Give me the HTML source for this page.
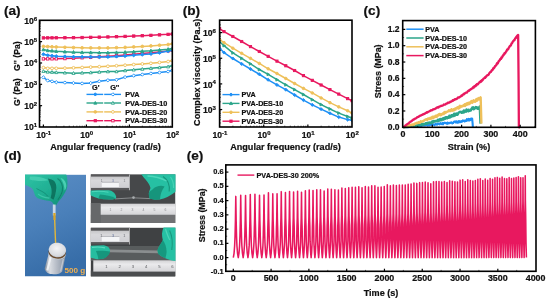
<!DOCTYPE html>
<html lang="en"><head><meta charset="utf-8"><title>Figure</title>
<style>html,body{margin:0;padding:0;background:#fff}svg{display:block}</style>
</head><body>
<svg width="550" height="301" viewBox="0 0 550 301" font-family="'Liberation Sans', sans-serif" font-weight="bold">
<rect width="550" height="301" fill="#fff"/>
<text x="4.00" y="15.10" font-size="13.6" text-anchor="start" fill="#111" stroke="#111" stroke-width="0.22" stroke-linejoin="round" >(a)</text>
<text x="182.70" y="15.10" font-size="13.6" text-anchor="start" fill="#111" stroke="#111" stroke-width="0.22" stroke-linejoin="round" >(b)</text>
<text x="363.60" y="15.10" font-size="13.6" text-anchor="start" fill="#111" stroke="#111" stroke-width="0.22" stroke-linejoin="round" >(c)</text>
<text x="4.00" y="160.10" font-size="13.6" text-anchor="start" fill="#111" stroke="#111" stroke-width="0.22" stroke-linejoin="round" >(d)</text>
<text x="186.70" y="160.10" font-size="13.6" text-anchor="start" fill="#111" stroke="#111" stroke-width="0.22" stroke-linejoin="round" >(e)</text>
<clipPath id="ca"><rect x="39.5" y="20.3" width="132.8" height="106.7"/></clipPath>
<g clip-path="url(#ca)">
<polyline points="43.40,77.40 47.70,80.50 52.00,81.38 56.30,82.21 64.90,82.62 73.50,83.03 82.10,83.46 90.70,83.05 99.30,81.31 107.90,80.22 116.50,79.74 125.10,77.11 133.70,75.65 142.30,74.56 150.90,73.50 159.50,72.56 168.10,71.48 172.40,70.20" fill="none" stroke="#1E90F5" stroke-width="1.5" stroke-linejoin="round" />
<polygon points="43.40,75.72 45.08,77.40 43.40,79.08 41.72,77.40" fill="#fff" stroke="#1E90F5" stroke-width="0.9"/>
<polygon points="47.70,78.82 49.38,80.50 47.70,82.18 46.02,80.50" fill="#fff" stroke="#1E90F5" stroke-width="0.9"/>
<polygon points="52.00,79.70 53.68,81.38 52.00,83.06 50.32,81.38" fill="#fff" stroke="#1E90F5" stroke-width="0.9"/>
<polygon points="56.30,80.53 57.98,82.21 56.30,83.89 54.62,82.21" fill="#fff" stroke="#1E90F5" stroke-width="0.9"/>
<polygon points="64.90,80.94 66.58,82.62 64.90,84.30 63.22,82.62" fill="#fff" stroke="#1E90F5" stroke-width="0.9"/>
<polygon points="73.50,81.35 75.18,83.03 73.50,84.71 71.82,83.03" fill="#fff" stroke="#1E90F5" stroke-width="0.9"/>
<polygon points="82.10,81.78 83.78,83.46 82.10,85.14 80.42,83.46" fill="#fff" stroke="#1E90F5" stroke-width="0.9"/>
<polygon points="90.70,81.37 92.38,83.05 90.70,84.73 89.02,83.05" fill="#fff" stroke="#1E90F5" stroke-width="0.9"/>
<polygon points="99.30,79.62 100.98,81.31 99.30,82.99 97.62,81.31" fill="#fff" stroke="#1E90F5" stroke-width="0.9"/>
<polygon points="107.90,78.54 109.58,80.22 107.90,81.90 106.22,80.22" fill="#fff" stroke="#1E90F5" stroke-width="0.9"/>
<polygon points="116.50,78.06 118.18,79.74 116.50,81.42 114.82,79.74" fill="#fff" stroke="#1E90F5" stroke-width="0.9"/>
<polygon points="125.10,75.43 126.78,77.11 125.10,78.79 123.42,77.11" fill="#fff" stroke="#1E90F5" stroke-width="0.9"/>
<polygon points="133.70,73.97 135.38,75.65 133.70,77.33 132.02,75.65" fill="#fff" stroke="#1E90F5" stroke-width="0.9"/>
<polygon points="142.30,72.88 143.98,74.56 142.30,76.24 140.62,74.56" fill="#fff" stroke="#1E90F5" stroke-width="0.9"/>
<polygon points="150.90,71.82 152.58,73.50 150.90,75.18 149.22,73.50" fill="#fff" stroke="#1E90F5" stroke-width="0.9"/>
<polygon points="159.50,70.88 161.18,72.56 159.50,74.24 157.82,72.56" fill="#fff" stroke="#1E90F5" stroke-width="0.9"/>
<polygon points="168.10,69.80 169.78,71.48 168.10,73.16 166.42,71.48" fill="#fff" stroke="#1E90F5" stroke-width="0.9"/>
<polygon points="172.40,68.52 174.08,70.20 172.40,71.88 170.72,70.20" fill="#fff" stroke="#1E90F5" stroke-width="0.9"/>
<polyline points="43.40,71.20 47.70,71.95 52.00,72.20 56.30,72.41 64.90,72.83 73.50,73.18 82.10,72.88 90.70,72.56 99.30,72.02 107.90,71.60 116.50,71.54 125.10,70.56 133.70,69.83 142.30,69.10 150.90,68.36 159.50,67.57 168.10,66.70 172.40,65.60" fill="none" stroke="#2BA58A" stroke-width="1.5" stroke-linejoin="round" />
<polygon points="43.40,69.59 44.94,72.39 41.86,72.39" fill="#fff" stroke="#2BA58A" stroke-width="0.9"/>
<polygon points="47.70,70.34 49.24,73.14 46.16,73.14" fill="#fff" stroke="#2BA58A" stroke-width="0.9"/>
<polygon points="52.00,70.59 53.54,73.39 50.46,73.39" fill="#fff" stroke="#2BA58A" stroke-width="0.9"/>
<polygon points="56.30,70.80 57.84,73.60 54.76,73.60" fill="#fff" stroke="#2BA58A" stroke-width="0.9"/>
<polygon points="64.90,71.22 66.44,74.02 63.36,74.02" fill="#fff" stroke="#2BA58A" stroke-width="0.9"/>
<polygon points="73.50,71.57 75.04,74.37 71.96,74.37" fill="#fff" stroke="#2BA58A" stroke-width="0.9"/>
<polygon points="82.10,71.27 83.64,74.07 80.56,74.07" fill="#fff" stroke="#2BA58A" stroke-width="0.9"/>
<polygon points="90.70,70.95 92.24,73.75 89.16,73.75" fill="#fff" stroke="#2BA58A" stroke-width="0.9"/>
<polygon points="99.30,70.41 100.84,73.21 97.76,73.21" fill="#fff" stroke="#2BA58A" stroke-width="0.9"/>
<polygon points="107.90,69.99 109.44,72.79 106.36,72.79" fill="#fff" stroke="#2BA58A" stroke-width="0.9"/>
<polygon points="116.50,69.93 118.04,72.73 114.96,72.73" fill="#fff" stroke="#2BA58A" stroke-width="0.9"/>
<polygon points="125.10,68.95 126.64,71.75 123.56,71.75" fill="#fff" stroke="#2BA58A" stroke-width="0.9"/>
<polygon points="133.70,68.22 135.24,71.02 132.16,71.02" fill="#fff" stroke="#2BA58A" stroke-width="0.9"/>
<polygon points="142.30,67.49 143.84,70.29 140.76,70.29" fill="#fff" stroke="#2BA58A" stroke-width="0.9"/>
<polygon points="150.90,66.75 152.44,69.55 149.36,69.55" fill="#fff" stroke="#2BA58A" stroke-width="0.9"/>
<polygon points="159.50,65.96 161.04,68.76 157.96,68.76" fill="#fff" stroke="#2BA58A" stroke-width="0.9"/>
<polygon points="168.10,65.09 169.64,67.89 166.56,67.89" fill="#fff" stroke="#2BA58A" stroke-width="0.9"/>
<polygon points="172.40,63.99 173.94,66.79 170.86,66.79" fill="#fff" stroke="#2BA58A" stroke-width="0.9"/>
<polyline points="43.40,67.60 47.70,68.35 52.00,68.37 56.30,68.33 64.90,68.13 73.50,67.83 82.10,67.50 90.70,67.11 99.30,66.71 107.90,66.28 116.50,65.74 125.10,65.19 133.70,64.57 142.30,63.95 150.90,63.31 159.50,62.43 168.10,61.51 172.40,60.60" fill="none" stroke="#EEC05A" stroke-width="1.5" stroke-linejoin="round" />
<circle cx="43.40" cy="67.60" r="1.40" fill="#fff" stroke="#EEC05A" stroke-width="0.9"/>
<circle cx="47.70" cy="68.35" r="1.40" fill="#fff" stroke="#EEC05A" stroke-width="0.9"/>
<circle cx="52.00" cy="68.37" r="1.40" fill="#fff" stroke="#EEC05A" stroke-width="0.9"/>
<circle cx="56.30" cy="68.33" r="1.40" fill="#fff" stroke="#EEC05A" stroke-width="0.9"/>
<circle cx="64.90" cy="68.13" r="1.40" fill="#fff" stroke="#EEC05A" stroke-width="0.9"/>
<circle cx="73.50" cy="67.83" r="1.40" fill="#fff" stroke="#EEC05A" stroke-width="0.9"/>
<circle cx="82.10" cy="67.50" r="1.40" fill="#fff" stroke="#EEC05A" stroke-width="0.9"/>
<circle cx="90.70" cy="67.11" r="1.40" fill="#fff" stroke="#EEC05A" stroke-width="0.9"/>
<circle cx="99.30" cy="66.71" r="1.40" fill="#fff" stroke="#EEC05A" stroke-width="0.9"/>
<circle cx="107.90" cy="66.28" r="1.40" fill="#fff" stroke="#EEC05A" stroke-width="0.9"/>
<circle cx="116.50" cy="65.74" r="1.40" fill="#fff" stroke="#EEC05A" stroke-width="0.9"/>
<circle cx="125.10" cy="65.19" r="1.40" fill="#fff" stroke="#EEC05A" stroke-width="0.9"/>
<circle cx="133.70" cy="64.57" r="1.40" fill="#fff" stroke="#EEC05A" stroke-width="0.9"/>
<circle cx="142.30" cy="63.95" r="1.40" fill="#fff" stroke="#EEC05A" stroke-width="0.9"/>
<circle cx="150.90" cy="63.31" r="1.40" fill="#fff" stroke="#EEC05A" stroke-width="0.9"/>
<circle cx="159.50" cy="62.43" r="1.40" fill="#fff" stroke="#EEC05A" stroke-width="0.9"/>
<circle cx="168.10" cy="61.51" r="1.40" fill="#fff" stroke="#EEC05A" stroke-width="0.9"/>
<circle cx="172.40" cy="60.60" r="1.40" fill="#fff" stroke="#EEC05A" stroke-width="0.9"/>
<polyline points="43.40,58.90 47.70,58.87 52.00,58.85 56.30,58.82 64.90,58.58 73.50,58.19 82.10,57.78 90.70,57.28 99.30,56.79 107.90,56.27 116.50,55.68 125.10,55.09 133.70,54.33 142.30,53.58 150.90,52.80 159.50,51.88 168.10,50.94 172.40,50.30" fill="none" stroke="#E8185F" stroke-width="1.5" stroke-linejoin="round" />
<rect x="42.21" y="57.71" width="2.38" height="2.38" fill="#fff" stroke="#E8185F" stroke-width="0.9"/>
<rect x="46.51" y="57.68" width="2.38" height="2.38" fill="#fff" stroke="#E8185F" stroke-width="0.9"/>
<rect x="50.81" y="57.66" width="2.38" height="2.38" fill="#fff" stroke="#E8185F" stroke-width="0.9"/>
<rect x="55.11" y="57.63" width="2.38" height="2.38" fill="#fff" stroke="#E8185F" stroke-width="0.9"/>
<rect x="63.71" y="57.39" width="2.38" height="2.38" fill="#fff" stroke="#E8185F" stroke-width="0.9"/>
<rect x="72.31" y="57.00" width="2.38" height="2.38" fill="#fff" stroke="#E8185F" stroke-width="0.9"/>
<rect x="80.91" y="56.59" width="2.38" height="2.38" fill="#fff" stroke="#E8185F" stroke-width="0.9"/>
<rect x="89.51" y="56.09" width="2.38" height="2.38" fill="#fff" stroke="#E8185F" stroke-width="0.9"/>
<rect x="98.11" y="55.60" width="2.38" height="2.38" fill="#fff" stroke="#E8185F" stroke-width="0.9"/>
<rect x="106.71" y="55.08" width="2.38" height="2.38" fill="#fff" stroke="#E8185F" stroke-width="0.9"/>
<rect x="115.31" y="54.49" width="2.38" height="2.38" fill="#fff" stroke="#E8185F" stroke-width="0.9"/>
<rect x="123.91" y="53.90" width="2.38" height="2.38" fill="#fff" stroke="#E8185F" stroke-width="0.9"/>
<rect x="132.51" y="53.14" width="2.38" height="2.38" fill="#fff" stroke="#E8185F" stroke-width="0.9"/>
<rect x="141.11" y="52.39" width="2.38" height="2.38" fill="#fff" stroke="#E8185F" stroke-width="0.9"/>
<rect x="149.71" y="51.61" width="2.38" height="2.38" fill="#fff" stroke="#E8185F" stroke-width="0.9"/>
<rect x="158.31" y="50.69" width="2.38" height="2.38" fill="#fff" stroke="#E8185F" stroke-width="0.9"/>
<rect x="166.91" y="49.75" width="2.38" height="2.38" fill="#fff" stroke="#E8185F" stroke-width="0.9"/>
<rect x="171.21" y="49.11" width="2.38" height="2.38" fill="#fff" stroke="#E8185F" stroke-width="0.9"/>
<polyline points="43.40,54.30 47.70,55.33 52.00,55.80 56.30,56.21 64.90,56.51 73.50,56.80 82.10,56.86 90.70,56.91 99.30,56.96 107.90,56.90 116.50,56.45 125.10,55.99 133.70,55.30 142.30,54.62 150.90,53.88 159.50,52.73 168.10,51.11 172.40,50.20" fill="none" stroke="#1E90F5" stroke-width="1.5" stroke-linejoin="round" />
<polygon points="43.40,52.62 45.08,54.30 43.40,55.98 41.72,54.30" fill="#1E90F5" stroke="#1E90F5" stroke-width="0.9"/>
<polygon points="47.70,53.65 49.38,55.33 47.70,57.01 46.02,55.33" fill="#1E90F5" stroke="#1E90F5" stroke-width="0.9"/>
<polygon points="52.00,54.12 53.68,55.80 52.00,57.48 50.32,55.80" fill="#1E90F5" stroke="#1E90F5" stroke-width="0.9"/>
<polygon points="56.30,54.53 57.98,56.21 56.30,57.89 54.62,56.21" fill="#1E90F5" stroke="#1E90F5" stroke-width="0.9"/>
<polygon points="64.90,54.83 66.58,56.51 64.90,58.19 63.22,56.51" fill="#1E90F5" stroke="#1E90F5" stroke-width="0.9"/>
<polygon points="73.50,55.12 75.18,56.80 73.50,58.48 71.82,56.80" fill="#1E90F5" stroke="#1E90F5" stroke-width="0.9"/>
<polygon points="82.10,55.18 83.78,56.86 82.10,58.54 80.42,56.86" fill="#1E90F5" stroke="#1E90F5" stroke-width="0.9"/>
<polygon points="90.70,55.23 92.38,56.91 90.70,58.59 89.02,56.91" fill="#1E90F5" stroke="#1E90F5" stroke-width="0.9"/>
<polygon points="99.30,55.28 100.98,56.96 99.30,58.64 97.62,56.96" fill="#1E90F5" stroke="#1E90F5" stroke-width="0.9"/>
<polygon points="107.90,55.22 109.58,56.90 107.90,58.58 106.22,56.90" fill="#1E90F5" stroke="#1E90F5" stroke-width="0.9"/>
<polygon points="116.50,54.77 118.18,56.45 116.50,58.13 114.82,56.45" fill="#1E90F5" stroke="#1E90F5" stroke-width="0.9"/>
<polygon points="125.10,54.31 126.78,55.99 125.10,57.67 123.42,55.99" fill="#1E90F5" stroke="#1E90F5" stroke-width="0.9"/>
<polygon points="133.70,53.62 135.38,55.30 133.70,56.98 132.02,55.30" fill="#1E90F5" stroke="#1E90F5" stroke-width="0.9"/>
<polygon points="142.30,52.94 143.98,54.62 142.30,56.30 140.62,54.62" fill="#1E90F5" stroke="#1E90F5" stroke-width="0.9"/>
<polygon points="150.90,52.20 152.58,53.88 150.90,55.56 149.22,53.88" fill="#1E90F5" stroke="#1E90F5" stroke-width="0.9"/>
<polygon points="159.50,51.05 161.18,52.73 159.50,54.41 157.82,52.73" fill="#1E90F5" stroke="#1E90F5" stroke-width="0.9"/>
<polygon points="168.10,49.43 169.78,51.11 168.10,52.79 166.42,51.11" fill="#1E90F5" stroke="#1E90F5" stroke-width="0.9"/>
<polygon points="172.40,48.52 174.08,50.20 172.40,51.88 170.72,50.20" fill="#1E90F5" stroke="#1E90F5" stroke-width="0.9"/>
<polyline points="43.40,49.60 47.70,50.53 52.00,50.93 56.30,51.29 64.90,51.80 73.50,52.14 82.10,52.43 90.70,52.56 99.30,52.70 107.90,52.74 116.50,52.47 125.10,52.19 133.70,51.71 142.30,51.23 150.90,50.72 159.50,49.99 168.10,49.22 172.40,48.40" fill="none" stroke="#2BA58A" stroke-width="1.5" stroke-linejoin="round" />
<polygon points="43.40,47.99 44.94,50.79 41.86,50.79" fill="#2BA58A" stroke="#2BA58A" stroke-width="0.9"/>
<polygon points="47.70,48.92 49.24,51.72 46.16,51.72" fill="#2BA58A" stroke="#2BA58A" stroke-width="0.9"/>
<polygon points="52.00,49.32 53.54,52.12 50.46,52.12" fill="#2BA58A" stroke="#2BA58A" stroke-width="0.9"/>
<polygon points="56.30,49.68 57.84,52.48 54.76,52.48" fill="#2BA58A" stroke="#2BA58A" stroke-width="0.9"/>
<polygon points="64.90,50.19 66.44,52.99 63.36,52.99" fill="#2BA58A" stroke="#2BA58A" stroke-width="0.9"/>
<polygon points="73.50,50.53 75.04,53.33 71.96,53.33" fill="#2BA58A" stroke="#2BA58A" stroke-width="0.9"/>
<polygon points="82.10,50.82 83.64,53.62 80.56,53.62" fill="#2BA58A" stroke="#2BA58A" stroke-width="0.9"/>
<polygon points="90.70,50.95 92.24,53.75 89.16,53.75" fill="#2BA58A" stroke="#2BA58A" stroke-width="0.9"/>
<polygon points="99.30,51.09 100.84,53.89 97.76,53.89" fill="#2BA58A" stroke="#2BA58A" stroke-width="0.9"/>
<polygon points="107.90,51.13 109.44,53.93 106.36,53.93" fill="#2BA58A" stroke="#2BA58A" stroke-width="0.9"/>
<polygon points="116.50,50.86 118.04,53.66 114.96,53.66" fill="#2BA58A" stroke="#2BA58A" stroke-width="0.9"/>
<polygon points="125.10,50.58 126.64,53.38 123.56,53.38" fill="#2BA58A" stroke="#2BA58A" stroke-width="0.9"/>
<polygon points="133.70,50.10 135.24,52.90 132.16,52.90" fill="#2BA58A" stroke="#2BA58A" stroke-width="0.9"/>
<polygon points="142.30,49.62 143.84,52.42 140.76,52.42" fill="#2BA58A" stroke="#2BA58A" stroke-width="0.9"/>
<polygon points="150.90,49.11 152.44,51.91 149.36,51.91" fill="#2BA58A" stroke="#2BA58A" stroke-width="0.9"/>
<polygon points="159.50,48.38 161.04,51.18 157.96,51.18" fill="#2BA58A" stroke="#2BA58A" stroke-width="0.9"/>
<polygon points="168.10,47.61 169.64,50.41 166.56,50.41" fill="#2BA58A" stroke="#2BA58A" stroke-width="0.9"/>
<polygon points="172.40,46.79 173.94,49.59 170.86,49.59" fill="#2BA58A" stroke="#2BA58A" stroke-width="0.9"/>
<polyline points="43.40,46.40 47.70,46.61 52.00,46.81 56.30,47.02 64.90,47.35 73.50,47.60 82.10,47.82 90.70,47.88 99.30,47.95 107.90,47.94 116.50,47.67 125.10,47.39 133.70,46.91 142.30,46.43 150.90,45.93 159.50,45.25 168.10,44.53 172.40,43.80" fill="none" stroke="#EEC05A" stroke-width="1.5" stroke-linejoin="round" />
<circle cx="43.40" cy="46.40" r="1.40" fill="#EEC05A" stroke="#EEC05A" stroke-width="0.9"/>
<circle cx="47.70" cy="46.61" r="1.40" fill="#EEC05A" stroke="#EEC05A" stroke-width="0.9"/>
<circle cx="52.00" cy="46.81" r="1.40" fill="#EEC05A" stroke="#EEC05A" stroke-width="0.9"/>
<circle cx="56.30" cy="47.02" r="1.40" fill="#EEC05A" stroke="#EEC05A" stroke-width="0.9"/>
<circle cx="64.90" cy="47.35" r="1.40" fill="#EEC05A" stroke="#EEC05A" stroke-width="0.9"/>
<circle cx="73.50" cy="47.60" r="1.40" fill="#EEC05A" stroke="#EEC05A" stroke-width="0.9"/>
<circle cx="82.10" cy="47.82" r="1.40" fill="#EEC05A" stroke="#EEC05A" stroke-width="0.9"/>
<circle cx="90.70" cy="47.88" r="1.40" fill="#EEC05A" stroke="#EEC05A" stroke-width="0.9"/>
<circle cx="99.30" cy="47.95" r="1.40" fill="#EEC05A" stroke="#EEC05A" stroke-width="0.9"/>
<circle cx="107.90" cy="47.94" r="1.40" fill="#EEC05A" stroke="#EEC05A" stroke-width="0.9"/>
<circle cx="116.50" cy="47.67" r="1.40" fill="#EEC05A" stroke="#EEC05A" stroke-width="0.9"/>
<circle cx="125.10" cy="47.39" r="1.40" fill="#EEC05A" stroke="#EEC05A" stroke-width="0.9"/>
<circle cx="133.70" cy="46.91" r="1.40" fill="#EEC05A" stroke="#EEC05A" stroke-width="0.9"/>
<circle cx="142.30" cy="46.43" r="1.40" fill="#EEC05A" stroke="#EEC05A" stroke-width="0.9"/>
<circle cx="150.90" cy="45.93" r="1.40" fill="#EEC05A" stroke="#EEC05A" stroke-width="0.9"/>
<circle cx="159.50" cy="45.25" r="1.40" fill="#EEC05A" stroke="#EEC05A" stroke-width="0.9"/>
<circle cx="168.10" cy="44.53" r="1.40" fill="#EEC05A" stroke="#EEC05A" stroke-width="0.9"/>
<circle cx="172.40" cy="43.80" r="1.40" fill="#EEC05A" stroke="#EEC05A" stroke-width="0.9"/>
<polyline points="43.40,37.90 47.70,37.86 52.00,37.83 56.30,37.79 64.90,37.72 73.50,37.65 82.10,37.55 90.70,37.35 99.30,37.15 107.90,36.94 116.50,36.67 125.10,36.40 133.70,36.05 142.30,35.71 150.90,35.35 159.50,34.86 168.10,34.37 172.40,34.00" fill="none" stroke="#E8185F" stroke-width="1.5" stroke-linejoin="round" />
<rect x="42.21" y="36.71" width="2.38" height="2.38" fill="#E8185F" stroke="#E8185F" stroke-width="0.9"/>
<rect x="46.51" y="36.67" width="2.38" height="2.38" fill="#E8185F" stroke="#E8185F" stroke-width="0.9"/>
<rect x="50.81" y="36.64" width="2.38" height="2.38" fill="#E8185F" stroke="#E8185F" stroke-width="0.9"/>
<rect x="55.11" y="36.60" width="2.38" height="2.38" fill="#E8185F" stroke="#E8185F" stroke-width="0.9"/>
<rect x="63.71" y="36.53" width="2.38" height="2.38" fill="#E8185F" stroke="#E8185F" stroke-width="0.9"/>
<rect x="72.31" y="36.46" width="2.38" height="2.38" fill="#E8185F" stroke="#E8185F" stroke-width="0.9"/>
<rect x="80.91" y="36.36" width="2.38" height="2.38" fill="#E8185F" stroke="#E8185F" stroke-width="0.9"/>
<rect x="89.51" y="36.16" width="2.38" height="2.38" fill="#E8185F" stroke="#E8185F" stroke-width="0.9"/>
<rect x="98.11" y="35.96" width="2.38" height="2.38" fill="#E8185F" stroke="#E8185F" stroke-width="0.9"/>
<rect x="106.71" y="35.75" width="2.38" height="2.38" fill="#E8185F" stroke="#E8185F" stroke-width="0.9"/>
<rect x="115.31" y="35.48" width="2.38" height="2.38" fill="#E8185F" stroke="#E8185F" stroke-width="0.9"/>
<rect x="123.91" y="35.21" width="2.38" height="2.38" fill="#E8185F" stroke="#E8185F" stroke-width="0.9"/>
<rect x="132.51" y="34.86" width="2.38" height="2.38" fill="#E8185F" stroke="#E8185F" stroke-width="0.9"/>
<rect x="141.11" y="34.52" width="2.38" height="2.38" fill="#E8185F" stroke="#E8185F" stroke-width="0.9"/>
<rect x="149.71" y="34.16" width="2.38" height="2.38" fill="#E8185F" stroke="#E8185F" stroke-width="0.9"/>
<rect x="158.31" y="33.67" width="2.38" height="2.38" fill="#E8185F" stroke="#E8185F" stroke-width="0.9"/>
<rect x="166.91" y="33.18" width="2.38" height="2.38" fill="#E8185F" stroke="#E8185F" stroke-width="0.9"/>
<rect x="171.21" y="32.81" width="2.38" height="2.38" fill="#E8185F" stroke="#E8185F" stroke-width="0.9"/>
</g>
<text x="92.00" y="90.20" font-size="7.3" text-anchor="start" fill="#111" stroke="#111" stroke-width="0.22" stroke-linejoin="round" >G'</text>
<text x="110.20" y="90.20" font-size="7.3" text-anchor="start" fill="#111" stroke="#111" stroke-width="0.22" stroke-linejoin="round" >G''</text>
<line x1="86.50" y1="94.40" x2="103.20" y2="94.40" stroke="#1E90F5" stroke-width="1.4" />
<line x1="104.20" y1="94.40" x2="121.00" y2="94.40" stroke="#1E90F5" stroke-width="1.4" />
<polygon points="95.30,92.78 96.92,94.40 95.30,96.02 93.68,94.40" fill="#1E90F5" stroke="#1E90F5" stroke-width="0.9"/>
<polygon points="112.90,92.72 114.58,94.40 112.90,96.08 111.22,94.40" fill="#fff" stroke="#1E90F5" stroke-width="0.9"/>
<text x="125.20" y="97.00" font-size="7.25" text-anchor="start" fill="#111" stroke="#111" stroke-width="0.22" stroke-linejoin="round" >PVA</text>
<line x1="86.50" y1="103.00" x2="103.20" y2="103.00" stroke="#2BA58A" stroke-width="1.4" />
<line x1="104.20" y1="103.00" x2="121.00" y2="103.00" stroke="#2BA58A" stroke-width="1.4" />
<polygon points="95.30,101.45 96.78,104.15 93.81,104.15" fill="#2BA58A" stroke="#2BA58A" stroke-width="0.9"/>
<polygon points="112.90,101.39 114.44,104.19 111.36,104.19" fill="#fff" stroke="#2BA58A" stroke-width="0.9"/>
<text x="125.20" y="105.60" font-size="7.25" text-anchor="start" fill="#111" stroke="#111" stroke-width="0.22" stroke-linejoin="round" >PVA-DES-10</text>
<line x1="86.50" y1="111.90" x2="103.20" y2="111.90" stroke="#EEC05A" stroke-width="1.4" />
<line x1="104.20" y1="111.90" x2="121.00" y2="111.90" stroke="#EEC05A" stroke-width="1.4" />
<circle cx="95.30" cy="111.90" r="1.35" fill="#EEC05A" stroke="#EEC05A" stroke-width="0.9"/>
<circle cx="112.90" cy="111.90" r="1.40" fill="#fff" stroke="#EEC05A" stroke-width="0.9"/>
<text x="125.20" y="114.50" font-size="7.25" text-anchor="start" fill="#111" stroke="#111" stroke-width="0.22" stroke-linejoin="round" >PVA-DES-20</text>
<line x1="86.50" y1="120.70" x2="103.20" y2="120.70" stroke="#E8185F" stroke-width="1.4" />
<line x1="104.20" y1="120.70" x2="121.00" y2="120.70" stroke="#E8185F" stroke-width="1.4" />
<rect x="94.15" y="119.55" width="2.29" height="2.29" fill="#E8185F" stroke="#E8185F" stroke-width="0.9"/>
<rect x="111.71" y="119.51" width="2.38" height="2.38" fill="#fff" stroke="#E8185F" stroke-width="0.9"/>
<text x="125.20" y="123.30" font-size="7.25" text-anchor="start" fill="#111" stroke="#111" stroke-width="0.22" stroke-linejoin="round" >PVA-DES-30</text>
<text x="37.20" y="130.40" font-size="8.6" text-anchor="end" fill="#111" stroke="#111" stroke-width="0.22" stroke-linejoin="round">10<tspan font-size="6.0" dy="-3.2">1</tspan></text>
<line x1="39.50" y1="120.58" x2="40.90" y2="120.58" stroke="#000" stroke-width="0.6" />
<line x1="39.50" y1="116.82" x2="40.90" y2="116.82" stroke="#000" stroke-width="0.6" />
<line x1="39.50" y1="114.15" x2="40.90" y2="114.15" stroke="#000" stroke-width="0.6" />
<line x1="39.50" y1="112.08" x2="40.90" y2="112.08" stroke="#000" stroke-width="0.6" />
<line x1="39.50" y1="110.39" x2="40.90" y2="110.39" stroke="#000" stroke-width="0.6" />
<line x1="39.50" y1="108.97" x2="40.90" y2="108.97" stroke="#000" stroke-width="0.6" />
<line x1="39.50" y1="107.73" x2="40.90" y2="107.73" stroke="#000" stroke-width="0.6" />
<line x1="39.50" y1="106.64" x2="40.90" y2="106.64" stroke="#000" stroke-width="0.6" />
<line x1="39.50" y1="105.66" x2="42.10" y2="105.66" stroke="#000" stroke-width="1.2" />
<text x="37.20" y="109.06" font-size="8.6" text-anchor="end" fill="#111" stroke="#111" stroke-width="0.22" stroke-linejoin="round">10<tspan font-size="6.0" dy="-3.2">2</tspan></text>
<line x1="39.50" y1="99.24" x2="40.90" y2="99.24" stroke="#000" stroke-width="0.6" />
<line x1="39.50" y1="95.48" x2="40.90" y2="95.48" stroke="#000" stroke-width="0.6" />
<line x1="39.50" y1="92.81" x2="40.90" y2="92.81" stroke="#000" stroke-width="0.6" />
<line x1="39.50" y1="90.74" x2="40.90" y2="90.74" stroke="#000" stroke-width="0.6" />
<line x1="39.50" y1="89.05" x2="40.90" y2="89.05" stroke="#000" stroke-width="0.6" />
<line x1="39.50" y1="87.63" x2="40.90" y2="87.63" stroke="#000" stroke-width="0.6" />
<line x1="39.50" y1="86.39" x2="40.90" y2="86.39" stroke="#000" stroke-width="0.6" />
<line x1="39.50" y1="85.30" x2="40.90" y2="85.30" stroke="#000" stroke-width="0.6" />
<line x1="39.50" y1="84.32" x2="42.10" y2="84.32" stroke="#000" stroke-width="1.2" />
<text x="37.20" y="87.72" font-size="8.6" text-anchor="end" fill="#111" stroke="#111" stroke-width="0.22" stroke-linejoin="round">10<tspan font-size="6.0" dy="-3.2">3</tspan></text>
<line x1="39.50" y1="77.90" x2="40.90" y2="77.90" stroke="#000" stroke-width="0.6" />
<line x1="39.50" y1="74.14" x2="40.90" y2="74.14" stroke="#000" stroke-width="0.6" />
<line x1="39.50" y1="71.47" x2="40.90" y2="71.47" stroke="#000" stroke-width="0.6" />
<line x1="39.50" y1="69.40" x2="40.90" y2="69.40" stroke="#000" stroke-width="0.6" />
<line x1="39.50" y1="67.71" x2="40.90" y2="67.71" stroke="#000" stroke-width="0.6" />
<line x1="39.50" y1="66.29" x2="40.90" y2="66.29" stroke="#000" stroke-width="0.6" />
<line x1="39.50" y1="65.05" x2="40.90" y2="65.05" stroke="#000" stroke-width="0.6" />
<line x1="39.50" y1="63.96" x2="40.90" y2="63.96" stroke="#000" stroke-width="0.6" />
<line x1="39.50" y1="62.98" x2="42.10" y2="62.98" stroke="#000" stroke-width="1.2" />
<text x="37.20" y="66.38" font-size="8.6" text-anchor="end" fill="#111" stroke="#111" stroke-width="0.22" stroke-linejoin="round">10<tspan font-size="6.0" dy="-3.2">4</tspan></text>
<line x1="39.50" y1="56.56" x2="40.90" y2="56.56" stroke="#000" stroke-width="0.6" />
<line x1="39.50" y1="52.80" x2="40.90" y2="52.80" stroke="#000" stroke-width="0.6" />
<line x1="39.50" y1="50.13" x2="40.90" y2="50.13" stroke="#000" stroke-width="0.6" />
<line x1="39.50" y1="48.06" x2="40.90" y2="48.06" stroke="#000" stroke-width="0.6" />
<line x1="39.50" y1="46.37" x2="40.90" y2="46.37" stroke="#000" stroke-width="0.6" />
<line x1="39.50" y1="44.95" x2="40.90" y2="44.95" stroke="#000" stroke-width="0.6" />
<line x1="39.50" y1="43.71" x2="40.90" y2="43.71" stroke="#000" stroke-width="0.6" />
<line x1="39.50" y1="42.62" x2="40.90" y2="42.62" stroke="#000" stroke-width="0.6" />
<line x1="39.50" y1="41.64" x2="42.10" y2="41.64" stroke="#000" stroke-width="1.2" />
<text x="37.20" y="45.04" font-size="8.6" text-anchor="end" fill="#111" stroke="#111" stroke-width="0.22" stroke-linejoin="round">10<tspan font-size="6.0" dy="-3.2">5</tspan></text>
<line x1="39.50" y1="35.22" x2="40.90" y2="35.22" stroke="#000" stroke-width="0.6" />
<line x1="39.50" y1="31.46" x2="40.90" y2="31.46" stroke="#000" stroke-width="0.6" />
<line x1="39.50" y1="28.79" x2="40.90" y2="28.79" stroke="#000" stroke-width="0.6" />
<line x1="39.50" y1="26.72" x2="40.90" y2="26.72" stroke="#000" stroke-width="0.6" />
<line x1="39.50" y1="25.03" x2="40.90" y2="25.03" stroke="#000" stroke-width="0.6" />
<line x1="39.50" y1="23.61" x2="40.90" y2="23.61" stroke="#000" stroke-width="0.6" />
<line x1="39.50" y1="22.37" x2="40.90" y2="22.37" stroke="#000" stroke-width="0.6" />
<line x1="39.50" y1="21.28" x2="40.90" y2="21.28" stroke="#000" stroke-width="0.6" />
<text x="37.20" y="23.70" font-size="8.6" text-anchor="end" fill="#111" stroke="#111" stroke-width="0.22" stroke-linejoin="round">10<tspan font-size="6.0" dy="-3.2">6</tspan></text>
<line x1="43.40" y1="127.00" x2="43.40" y2="124.40" stroke="#000" stroke-width="1.2" />
<text x="43.70" y="138.40" font-size="8.6" text-anchor="middle" fill="#111" stroke="#111" stroke-width="0.22" stroke-linejoin="round">10<tspan font-size="6.0" dy="-3.2">-1</tspan></text>
<line x1="56.34" y1="127.00" x2="56.34" y2="125.60" stroke="#000" stroke-width="0.6" />
<line x1="63.92" y1="127.00" x2="63.92" y2="125.60" stroke="#000" stroke-width="0.6" />
<line x1="69.29" y1="127.00" x2="69.29" y2="125.60" stroke="#000" stroke-width="0.6" />
<line x1="73.46" y1="127.00" x2="73.46" y2="125.60" stroke="#000" stroke-width="0.6" />
<line x1="76.86" y1="127.00" x2="76.86" y2="125.60" stroke="#000" stroke-width="0.6" />
<line x1="79.74" y1="127.00" x2="79.74" y2="125.60" stroke="#000" stroke-width="0.6" />
<line x1="82.23" y1="127.00" x2="82.23" y2="125.60" stroke="#000" stroke-width="0.6" />
<line x1="84.43" y1="127.00" x2="84.43" y2="125.60" stroke="#000" stroke-width="0.6" />
<line x1="86.40" y1="127.00" x2="86.40" y2="124.40" stroke="#000" stroke-width="1.2" />
<text x="86.70" y="138.40" font-size="8.6" text-anchor="middle" fill="#111" stroke="#111" stroke-width="0.22" stroke-linejoin="round">10<tspan font-size="6.0" dy="-3.2">0</tspan></text>
<line x1="99.34" y1="127.00" x2="99.34" y2="125.60" stroke="#000" stroke-width="0.6" />
<line x1="106.92" y1="127.00" x2="106.92" y2="125.60" stroke="#000" stroke-width="0.6" />
<line x1="112.29" y1="127.00" x2="112.29" y2="125.60" stroke="#000" stroke-width="0.6" />
<line x1="116.46" y1="127.00" x2="116.46" y2="125.60" stroke="#000" stroke-width="0.6" />
<line x1="119.86" y1="127.00" x2="119.86" y2="125.60" stroke="#000" stroke-width="0.6" />
<line x1="122.74" y1="127.00" x2="122.74" y2="125.60" stroke="#000" stroke-width="0.6" />
<line x1="125.23" y1="127.00" x2="125.23" y2="125.60" stroke="#000" stroke-width="0.6" />
<line x1="127.43" y1="127.00" x2="127.43" y2="125.60" stroke="#000" stroke-width="0.6" />
<line x1="129.40" y1="127.00" x2="129.40" y2="124.40" stroke="#000" stroke-width="1.2" />
<text x="129.70" y="138.40" font-size="8.6" text-anchor="middle" fill="#111" stroke="#111" stroke-width="0.22" stroke-linejoin="round">10<tspan font-size="6.0" dy="-3.2">1</tspan></text>
<line x1="142.34" y1="127.00" x2="142.34" y2="125.60" stroke="#000" stroke-width="0.6" />
<line x1="149.92" y1="127.00" x2="149.92" y2="125.60" stroke="#000" stroke-width="0.6" />
<line x1="155.29" y1="127.00" x2="155.29" y2="125.60" stroke="#000" stroke-width="0.6" />
<line x1="159.46" y1="127.00" x2="159.46" y2="125.60" stroke="#000" stroke-width="0.6" />
<line x1="162.86" y1="127.00" x2="162.86" y2="125.60" stroke="#000" stroke-width="0.6" />
<line x1="165.74" y1="127.00" x2="165.74" y2="125.60" stroke="#000" stroke-width="0.6" />
<line x1="168.23" y1="127.00" x2="168.23" y2="125.60" stroke="#000" stroke-width="0.6" />
<line x1="170.43" y1="127.00" x2="170.43" y2="125.60" stroke="#000" stroke-width="0.6" />
<text x="172.70" y="138.40" font-size="8.6" text-anchor="middle" fill="#111" stroke="#111" stroke-width="0.22" stroke-linejoin="round">10<tspan font-size="6.0" dy="-3.2">2</tspan></text>
<rect x="39.50" y="20.30" width="132.80" height="106.70" fill="none" stroke="#000" stroke-width="1.6"/>
<text x="105.50" y="149.60" font-size="9.1" text-anchor="middle" fill="#111" stroke="#111" stroke-width="0.22" stroke-linejoin="round" >Angular frequency (rad/s)</text>
<text x="20.00" y="106.00" font-size="8.7" text-anchor="start" fill="#111" transform="rotate(-90 20.00 106.00)" stroke="#111" stroke-width="0.22" stroke-linejoin="round" >G' (Pa)</text>
<text x="20.00" y="71.00" font-size="8.7" text-anchor="start" fill="#111" transform="rotate(-90 20.00 71.00)" stroke="#111" stroke-width="0.22" stroke-linejoin="round" >G'' (Pa)</text>
<clipPath id="cb"><rect x="219.6" y="20.2" width="132.4" height="106.8"/></clipPath>
<g clip-path="url(#cb)">
<polyline points="219.60,48.30 224.01,52.54 232.84,58.51 241.67,63.91 250.49,68.99 259.32,74.24 268.15,79.78 276.97,84.89 285.80,89.68 294.63,95.00 303.45,100.08 312.28,104.84 321.11,109.14 329.93,113.24 338.76,117.08 347.59,119.61 352.00,120.30" fill="none" stroke="#1E90F5" stroke-width="1.5" stroke-linejoin="round" />
<polygon points="219.60,46.74 221.16,48.30 219.60,49.86 218.04,48.30" fill="#1E90F5" stroke="#1E90F5" stroke-width="0.9"/>
<polygon points="224.01,50.98 225.57,52.54 224.01,54.10 222.45,52.54" fill="#1E90F5" stroke="#1E90F5" stroke-width="0.9"/>
<polygon points="232.84,56.95 234.40,58.51 232.84,60.07 231.28,58.51" fill="#1E90F5" stroke="#1E90F5" stroke-width="0.9"/>
<polygon points="241.67,62.35 243.23,63.91 241.67,65.47 240.11,63.91" fill="#1E90F5" stroke="#1E90F5" stroke-width="0.9"/>
<polygon points="250.49,67.43 252.05,68.99 250.49,70.55 248.93,68.99" fill="#1E90F5" stroke="#1E90F5" stroke-width="0.9"/>
<polygon points="259.32,72.68 260.88,74.24 259.32,75.80 257.76,74.24" fill="#1E90F5" stroke="#1E90F5" stroke-width="0.9"/>
<polygon points="268.15,78.22 269.71,79.78 268.15,81.34 266.59,79.78" fill="#1E90F5" stroke="#1E90F5" stroke-width="0.9"/>
<polygon points="276.97,83.33 278.53,84.89 276.97,86.45 275.41,84.89" fill="#1E90F5" stroke="#1E90F5" stroke-width="0.9"/>
<polygon points="285.80,88.12 287.36,89.68 285.80,91.24 284.24,89.68" fill="#1E90F5" stroke="#1E90F5" stroke-width="0.9"/>
<polygon points="294.63,93.44 296.19,95.00 294.63,96.56 293.07,95.00" fill="#1E90F5" stroke="#1E90F5" stroke-width="0.9"/>
<polygon points="303.45,98.52 305.01,100.08 303.45,101.64 301.89,100.08" fill="#1E90F5" stroke="#1E90F5" stroke-width="0.9"/>
<polygon points="312.28,103.28 313.84,104.84 312.28,106.40 310.72,104.84" fill="#1E90F5" stroke="#1E90F5" stroke-width="0.9"/>
<polygon points="321.11,107.58 322.67,109.14 321.11,110.70 319.55,109.14" fill="#1E90F5" stroke="#1E90F5" stroke-width="0.9"/>
<polygon points="329.93,111.68 331.49,113.24 329.93,114.80 328.37,113.24" fill="#1E90F5" stroke="#1E90F5" stroke-width="0.9"/>
<polygon points="338.76,115.52 340.32,117.08 338.76,118.64 337.20,117.08" fill="#1E90F5" stroke="#1E90F5" stroke-width="0.9"/>
<polygon points="347.59,118.05 349.15,119.61 347.59,121.17 346.03,119.61" fill="#1E90F5" stroke="#1E90F5" stroke-width="0.9"/>
<polygon points="352.00,118.74 353.56,120.30 352.00,121.86 350.44,120.30" fill="#1E90F5" stroke="#1E90F5" stroke-width="0.9"/>
<polyline points="219.60,41.70 224.01,45.58 232.84,52.91 241.67,58.33 250.49,63.85 259.32,69.52 268.15,74.32 276.97,79.68 285.80,84.80 294.63,89.58 303.45,94.49 312.28,99.66 321.11,104.55 329.93,108.96 338.76,113.08 347.59,116.48 352.00,118.10" fill="none" stroke="#2BA58A" stroke-width="1.5" stroke-linejoin="round" />
<polygon points="221.09,41.70 218.50,40.27 218.50,43.13" fill="#2BA58A" stroke="#2BA58A" stroke-width="0.9"/>
<polygon points="225.51,45.58 222.91,44.15 222.91,47.01" fill="#2BA58A" stroke="#2BA58A" stroke-width="0.9"/>
<polygon points="234.34,52.91 231.74,51.48 231.74,54.34" fill="#2BA58A" stroke="#2BA58A" stroke-width="0.9"/>
<polygon points="243.16,58.33 240.56,56.90 240.56,59.76" fill="#2BA58A" stroke="#2BA58A" stroke-width="0.9"/>
<polygon points="251.99,63.85 249.39,62.42 249.39,65.28" fill="#2BA58A" stroke="#2BA58A" stroke-width="0.9"/>
<polygon points="260.81,69.52 258.21,68.09 258.21,70.95" fill="#2BA58A" stroke="#2BA58A" stroke-width="0.9"/>
<polygon points="269.64,74.32 267.04,72.89 267.04,75.75" fill="#2BA58A" stroke="#2BA58A" stroke-width="0.9"/>
<polygon points="278.47,79.68 275.87,78.25 275.87,81.11" fill="#2BA58A" stroke="#2BA58A" stroke-width="0.9"/>
<polygon points="287.30,84.80 284.69,83.37 284.69,86.23" fill="#2BA58A" stroke="#2BA58A" stroke-width="0.9"/>
<polygon points="296.12,89.58 293.52,88.15 293.52,91.01" fill="#2BA58A" stroke="#2BA58A" stroke-width="0.9"/>
<polygon points="304.95,94.49 302.35,93.06 302.35,95.92" fill="#2BA58A" stroke="#2BA58A" stroke-width="0.9"/>
<polygon points="313.77,99.66 311.17,98.23 311.17,101.09" fill="#2BA58A" stroke="#2BA58A" stroke-width="0.9"/>
<polygon points="322.60,104.55 320.00,103.12 320.00,105.98" fill="#2BA58A" stroke="#2BA58A" stroke-width="0.9"/>
<polygon points="331.43,108.96 328.83,107.53 328.83,110.39" fill="#2BA58A" stroke="#2BA58A" stroke-width="0.9"/>
<polygon points="340.25,113.08 337.65,111.65 337.65,114.51" fill="#2BA58A" stroke="#2BA58A" stroke-width="0.9"/>
<polygon points="349.08,116.48 346.48,115.05 346.48,117.91" fill="#2BA58A" stroke="#2BA58A" stroke-width="0.9"/>
<polygon points="353.50,118.10 350.89,116.67 350.89,119.53" fill="#2BA58A" stroke="#2BA58A" stroke-width="0.9"/>
<polyline points="219.60,39.50 224.01,42.63 232.84,48.20 241.67,53.31 250.49,58.33 259.32,63.43 268.15,68.78 276.97,73.50 285.80,78.50 294.63,83.52 303.45,88.38 312.28,92.95 321.11,97.96 329.93,102.66 338.76,106.88 347.59,110.76 352.00,113.00" fill="none" stroke="#EEC05A" stroke-width="1.5" stroke-linejoin="round" />
<circle cx="219.60" cy="39.50" r="1.30" fill="#EEC05A" stroke="#EEC05A" stroke-width="0.9"/>
<circle cx="224.01" cy="42.63" r="1.30" fill="#EEC05A" stroke="#EEC05A" stroke-width="0.9"/>
<circle cx="232.84" cy="48.20" r="1.30" fill="#EEC05A" stroke="#EEC05A" stroke-width="0.9"/>
<circle cx="241.67" cy="53.31" r="1.30" fill="#EEC05A" stroke="#EEC05A" stroke-width="0.9"/>
<circle cx="250.49" cy="58.33" r="1.30" fill="#EEC05A" stroke="#EEC05A" stroke-width="0.9"/>
<circle cx="259.32" cy="63.43" r="1.30" fill="#EEC05A" stroke="#EEC05A" stroke-width="0.9"/>
<circle cx="268.15" cy="68.78" r="1.30" fill="#EEC05A" stroke="#EEC05A" stroke-width="0.9"/>
<circle cx="276.97" cy="73.50" r="1.30" fill="#EEC05A" stroke="#EEC05A" stroke-width="0.9"/>
<circle cx="285.80" cy="78.50" r="1.30" fill="#EEC05A" stroke="#EEC05A" stroke-width="0.9"/>
<circle cx="294.63" cy="83.52" r="1.30" fill="#EEC05A" stroke="#EEC05A" stroke-width="0.9"/>
<circle cx="303.45" cy="88.38" r="1.30" fill="#EEC05A" stroke="#EEC05A" stroke-width="0.9"/>
<circle cx="312.28" cy="92.95" r="1.30" fill="#EEC05A" stroke="#EEC05A" stroke-width="0.9"/>
<circle cx="321.11" cy="97.96" r="1.30" fill="#EEC05A" stroke="#EEC05A" stroke-width="0.9"/>
<circle cx="329.93" cy="102.66" r="1.30" fill="#EEC05A" stroke="#EEC05A" stroke-width="0.9"/>
<circle cx="338.76" cy="106.88" r="1.30" fill="#EEC05A" stroke="#EEC05A" stroke-width="0.9"/>
<circle cx="347.59" cy="110.76" r="1.30" fill="#EEC05A" stroke="#EEC05A" stroke-width="0.9"/>
<circle cx="352.00" cy="113.00" r="1.30" fill="#EEC05A" stroke="#EEC05A" stroke-width="0.9"/>
<polyline points="219.60,28.60 224.01,31.62 232.84,36.49 241.67,41.51 250.49,46.62 259.32,51.48 268.15,56.33 276.97,61.14 285.80,65.75 294.63,70.52 303.45,75.63 312.28,80.34 321.11,85.00 329.93,89.57 338.76,94.08 347.59,98.64 352.00,100.70" fill="none" stroke="#E8185F" stroke-width="1.5" stroke-linejoin="round" />
<rect x="218.50" y="27.50" width="2.21" height="2.21" fill="#E8185F" stroke="#E8185F" stroke-width="0.9"/>
<rect x="222.91" y="30.51" width="2.21" height="2.21" fill="#E8185F" stroke="#E8185F" stroke-width="0.9"/>
<rect x="231.74" y="35.39" width="2.21" height="2.21" fill="#E8185F" stroke="#E8185F" stroke-width="0.9"/>
<rect x="240.56" y="40.41" width="2.21" height="2.21" fill="#E8185F" stroke="#E8185F" stroke-width="0.9"/>
<rect x="249.39" y="45.51" width="2.21" height="2.21" fill="#E8185F" stroke="#E8185F" stroke-width="0.9"/>
<rect x="258.21" y="50.37" width="2.21" height="2.21" fill="#E8185F" stroke="#E8185F" stroke-width="0.9"/>
<rect x="267.04" y="55.22" width="2.21" height="2.21" fill="#E8185F" stroke="#E8185F" stroke-width="0.9"/>
<rect x="275.87" y="60.03" width="2.21" height="2.21" fill="#E8185F" stroke="#E8185F" stroke-width="0.9"/>
<rect x="284.69" y="64.65" width="2.21" height="2.21" fill="#E8185F" stroke="#E8185F" stroke-width="0.9"/>
<rect x="293.52" y="69.41" width="2.21" height="2.21" fill="#E8185F" stroke="#E8185F" stroke-width="0.9"/>
<rect x="302.35" y="74.52" width="2.21" height="2.21" fill="#E8185F" stroke="#E8185F" stroke-width="0.9"/>
<rect x="311.17" y="79.23" width="2.21" height="2.21" fill="#E8185F" stroke="#E8185F" stroke-width="0.9"/>
<rect x="320.00" y="83.90" width="2.21" height="2.21" fill="#E8185F" stroke="#E8185F" stroke-width="0.9"/>
<rect x="328.83" y="88.47" width="2.21" height="2.21" fill="#E8185F" stroke="#E8185F" stroke-width="0.9"/>
<rect x="337.65" y="92.97" width="2.21" height="2.21" fill="#E8185F" stroke="#E8185F" stroke-width="0.9"/>
<rect x="346.48" y="97.53" width="2.21" height="2.21" fill="#E8185F" stroke="#E8185F" stroke-width="0.9"/>
<rect x="350.89" y="99.59" width="2.21" height="2.21" fill="#E8185F" stroke="#E8185F" stroke-width="0.9"/>
</g>
<line x1="222.50" y1="94.60" x2="239.50" y2="94.60" stroke="#1E90F5" stroke-width="1.4" />
<polygon points="231.00,92.98 232.62,94.60 231.00,96.22 229.38,94.60" fill="#1E90F5" stroke="#1E90F5" stroke-width="0.9"/>
<text x="241.50" y="97.20" font-size="7.2" text-anchor="start" fill="#111" stroke="#111" stroke-width="0.22" stroke-linejoin="round" >PVA</text>
<line x1="222.50" y1="103.40" x2="239.50" y2="103.40" stroke="#2BA58A" stroke-width="1.4" />
<polygon points="231.00,101.85 232.49,104.55 229.51,104.55" fill="#2BA58A" stroke="#2BA58A" stroke-width="0.9"/>
<text x="241.50" y="106.00" font-size="7.2" text-anchor="start" fill="#111" stroke="#111" stroke-width="0.22" stroke-linejoin="round" >PVA-DES-10</text>
<line x1="222.50" y1="112.30" x2="239.50" y2="112.30" stroke="#EEC05A" stroke-width="1.4" />
<circle cx="231.00" cy="112.30" r="1.35" fill="#EEC05A" stroke="#EEC05A" stroke-width="0.9"/>
<text x="241.50" y="114.90" font-size="7.2" text-anchor="start" fill="#111" stroke="#111" stroke-width="0.22" stroke-linejoin="round" >PVA-DES-20</text>
<line x1="222.50" y1="121.20" x2="239.50" y2="121.20" stroke="#E8185F" stroke-width="1.4" />
<rect x="229.85" y="120.05" width="2.29" height="2.29" fill="#E8185F" stroke="#E8185F" stroke-width="0.9"/>
<text x="241.50" y="123.80" font-size="7.2" text-anchor="start" fill="#111" stroke="#111" stroke-width="0.22" stroke-linejoin="round" >PVA-DES-30</text>
<line x1="219.60" y1="109.55" x2="222.20" y2="109.55" stroke="#000" stroke-width="1.2" />
<text x="215.80" y="113.15" font-size="8.6" text-anchor="end" fill="#111" stroke="#111" stroke-width="0.22" stroke-linejoin="round">10<tspan font-size="6.0" dy="-3.2">3</tspan></text>
<line x1="219.60" y1="83.90" x2="222.20" y2="83.90" stroke="#000" stroke-width="1.2" />
<text x="215.80" y="87.50" font-size="8.6" text-anchor="end" fill="#111" stroke="#111" stroke-width="0.22" stroke-linejoin="round">10<tspan font-size="6.0" dy="-3.2">4</tspan></text>
<line x1="219.60" y1="58.25" x2="222.20" y2="58.25" stroke="#000" stroke-width="1.2" />
<text x="215.80" y="61.85" font-size="8.6" text-anchor="end" fill="#111" stroke="#111" stroke-width="0.22" stroke-linejoin="round">10<tspan font-size="6.0" dy="-3.2">5</tspan></text>
<line x1="219.60" y1="32.60" x2="222.20" y2="32.60" stroke="#000" stroke-width="1.2" />
<text x="215.80" y="36.20" font-size="8.6" text-anchor="end" fill="#111" stroke="#111" stroke-width="0.22" stroke-linejoin="round">10<tspan font-size="6.0" dy="-3.2">6</tspan></text>
<line x1="219.60" y1="122.96" x2="221.00" y2="122.96" stroke="#000" stroke-width="0.6" />
<line x1="219.60" y1="119.76" x2="221.00" y2="119.76" stroke="#000" stroke-width="0.6" />
<line x1="219.60" y1="117.27" x2="221.00" y2="117.27" stroke="#000" stroke-width="0.6" />
<line x1="219.60" y1="115.24" x2="221.00" y2="115.24" stroke="#000" stroke-width="0.6" />
<line x1="219.60" y1="113.52" x2="221.00" y2="113.52" stroke="#000" stroke-width="0.6" />
<line x1="219.60" y1="112.04" x2="221.00" y2="112.04" stroke="#000" stroke-width="0.6" />
<line x1="219.60" y1="110.72" x2="221.00" y2="110.72" stroke="#000" stroke-width="0.6" />
<line x1="219.60" y1="101.83" x2="221.00" y2="101.83" stroke="#000" stroke-width="0.6" />
<line x1="219.60" y1="97.31" x2="221.00" y2="97.31" stroke="#000" stroke-width="0.6" />
<line x1="219.60" y1="94.11" x2="221.00" y2="94.11" stroke="#000" stroke-width="0.6" />
<line x1="219.60" y1="91.62" x2="221.00" y2="91.62" stroke="#000" stroke-width="0.6" />
<line x1="219.60" y1="89.59" x2="221.00" y2="89.59" stroke="#000" stroke-width="0.6" />
<line x1="219.60" y1="87.87" x2="221.00" y2="87.87" stroke="#000" stroke-width="0.6" />
<line x1="219.60" y1="86.39" x2="221.00" y2="86.39" stroke="#000" stroke-width="0.6" />
<line x1="219.60" y1="85.07" x2="221.00" y2="85.07" stroke="#000" stroke-width="0.6" />
<line x1="219.60" y1="76.18" x2="221.00" y2="76.18" stroke="#000" stroke-width="0.6" />
<line x1="219.60" y1="71.66" x2="221.00" y2="71.66" stroke="#000" stroke-width="0.6" />
<line x1="219.60" y1="68.46" x2="221.00" y2="68.46" stroke="#000" stroke-width="0.6" />
<line x1="219.60" y1="65.97" x2="221.00" y2="65.97" stroke="#000" stroke-width="0.6" />
<line x1="219.60" y1="63.94" x2="221.00" y2="63.94" stroke="#000" stroke-width="0.6" />
<line x1="219.60" y1="62.22" x2="221.00" y2="62.22" stroke="#000" stroke-width="0.6" />
<line x1="219.60" y1="60.74" x2="221.00" y2="60.74" stroke="#000" stroke-width="0.6" />
<line x1="219.60" y1="59.42" x2="221.00" y2="59.42" stroke="#000" stroke-width="0.6" />
<line x1="219.60" y1="50.53" x2="221.00" y2="50.53" stroke="#000" stroke-width="0.6" />
<line x1="219.60" y1="46.01" x2="221.00" y2="46.01" stroke="#000" stroke-width="0.6" />
<line x1="219.60" y1="42.81" x2="221.00" y2="42.81" stroke="#000" stroke-width="0.6" />
<line x1="219.60" y1="40.32" x2="221.00" y2="40.32" stroke="#000" stroke-width="0.6" />
<line x1="219.60" y1="38.29" x2="221.00" y2="38.29" stroke="#000" stroke-width="0.6" />
<line x1="219.60" y1="36.57" x2="221.00" y2="36.57" stroke="#000" stroke-width="0.6" />
<line x1="219.60" y1="35.09" x2="221.00" y2="35.09" stroke="#000" stroke-width="0.6" />
<line x1="219.60" y1="33.77" x2="221.00" y2="33.77" stroke="#000" stroke-width="0.6" />
<line x1="219.60" y1="24.88" x2="221.00" y2="24.88" stroke="#000" stroke-width="0.6" />
<line x1="219.60" y1="20.36" x2="221.00" y2="20.36" stroke="#000" stroke-width="0.6" />
<text x="219.90" y="138.40" font-size="8.6" text-anchor="middle" fill="#111" stroke="#111" stroke-width="0.22" stroke-linejoin="round">10<tspan font-size="6.0" dy="-3.2">-1</tspan></text>
<line x1="232.89" y1="127.00" x2="232.89" y2="125.60" stroke="#000" stroke-width="0.6" />
<line x1="240.66" y1="127.00" x2="240.66" y2="125.60" stroke="#000" stroke-width="0.6" />
<line x1="246.17" y1="127.00" x2="246.17" y2="125.60" stroke="#000" stroke-width="0.6" />
<line x1="250.45" y1="127.00" x2="250.45" y2="125.60" stroke="#000" stroke-width="0.6" />
<line x1="253.94" y1="127.00" x2="253.94" y2="125.60" stroke="#000" stroke-width="0.6" />
<line x1="256.90" y1="127.00" x2="256.90" y2="125.60" stroke="#000" stroke-width="0.6" />
<line x1="259.46" y1="127.00" x2="259.46" y2="125.60" stroke="#000" stroke-width="0.6" />
<line x1="261.71" y1="127.00" x2="261.71" y2="125.60" stroke="#000" stroke-width="0.6" />
<line x1="263.73" y1="127.00" x2="263.73" y2="124.40" stroke="#000" stroke-width="1.2" />
<text x="264.03" y="138.40" font-size="8.6" text-anchor="middle" fill="#111" stroke="#111" stroke-width="0.22" stroke-linejoin="round">10<tspan font-size="6.0" dy="-3.2">0</tspan></text>
<line x1="277.02" y1="127.00" x2="277.02" y2="125.60" stroke="#000" stroke-width="0.6" />
<line x1="284.79" y1="127.00" x2="284.79" y2="125.60" stroke="#000" stroke-width="0.6" />
<line x1="290.30" y1="127.00" x2="290.30" y2="125.60" stroke="#000" stroke-width="0.6" />
<line x1="294.58" y1="127.00" x2="294.58" y2="125.60" stroke="#000" stroke-width="0.6" />
<line x1="298.08" y1="127.00" x2="298.08" y2="125.60" stroke="#000" stroke-width="0.6" />
<line x1="301.03" y1="127.00" x2="301.03" y2="125.60" stroke="#000" stroke-width="0.6" />
<line x1="303.59" y1="127.00" x2="303.59" y2="125.60" stroke="#000" stroke-width="0.6" />
<line x1="305.85" y1="127.00" x2="305.85" y2="125.60" stroke="#000" stroke-width="0.6" />
<line x1="307.87" y1="127.00" x2="307.87" y2="124.40" stroke="#000" stroke-width="1.2" />
<text x="308.17" y="138.40" font-size="8.6" text-anchor="middle" fill="#111" stroke="#111" stroke-width="0.22" stroke-linejoin="round">10<tspan font-size="6.0" dy="-3.2">1</tspan></text>
<line x1="321.15" y1="127.00" x2="321.15" y2="125.60" stroke="#000" stroke-width="0.6" />
<line x1="328.92" y1="127.00" x2="328.92" y2="125.60" stroke="#000" stroke-width="0.6" />
<line x1="334.44" y1="127.00" x2="334.44" y2="125.60" stroke="#000" stroke-width="0.6" />
<line x1="338.71" y1="127.00" x2="338.71" y2="125.60" stroke="#000" stroke-width="0.6" />
<line x1="342.21" y1="127.00" x2="342.21" y2="125.60" stroke="#000" stroke-width="0.6" />
<line x1="345.16" y1="127.00" x2="345.16" y2="125.60" stroke="#000" stroke-width="0.6" />
<line x1="347.72" y1="127.00" x2="347.72" y2="125.60" stroke="#000" stroke-width="0.6" />
<line x1="349.98" y1="127.00" x2="349.98" y2="125.60" stroke="#000" stroke-width="0.6" />
<text x="352.30" y="138.40" font-size="8.6" text-anchor="middle" fill="#111" stroke="#111" stroke-width="0.22" stroke-linejoin="round">10<tspan font-size="6.0" dy="-3.2">2</tspan></text>
<rect x="219.60" y="20.20" width="132.40" height="106.80" fill="none" stroke="#000" stroke-width="1.6"/>
<text x="285.50" y="149.60" font-size="9.1" text-anchor="middle" fill="#111" stroke="#111" stroke-width="0.22" stroke-linejoin="round" >Angular frequency (rad/s)</text>
<text x="200.50" y="72.30" font-size="9.1" text-anchor="middle" fill="#111" transform="rotate(-90 200.50 72.30)" stroke="#111" stroke-width="0.22" stroke-linejoin="round" >Complex viscosity (Pa.s)</text>
<clipPath id="cc"><rect x="402.7" y="20.6" width="132.7" height="108.69999999999999"/></clipPath>
<g clip-path="url(#cc)">
<polyline points="403.00,127.30 403.44,127.06 403.88,127.06 404.32,127.30 404.76,127.14 405.20,127.13 405.64,126.96 406.08,126.83 406.52,127.24 406.96,127.25 407.40,126.66 407.84,126.89 408.29,126.62 408.73,127.12 409.17,126.76 409.61,126.52 410.05,126.84 410.49,126.26 410.93,126.25 411.37,126.88 411.81,126.85 412.25,126.40 412.69,126.04 413.13,126.45 413.57,126.55 414.01,126.34 414.45,126.64 414.89,126.43 415.33,126.21 415.77,126.12 416.21,126.31 416.65,126.28 417.09,126.25 417.53,125.99 417.97,126.11 418.42,126.33 418.86,125.51 419.30,125.74 419.74,125.62 420.18,126.03 420.62,125.19 421.06,125.28 421.50,126.00 421.94,125.74 422.38,125.30 422.82,125.27 423.26,124.99 423.70,125.51 424.14,125.02 424.58,125.16 425.02,125.53 425.46,125.18 425.90,124.80 426.34,124.81 426.78,125.16 427.22,125.03 427.66,125.64 428.10,125.36 428.55,124.66 428.99,125.08 429.43,125.34 429.87,124.84 430.31,124.61 430.75,124.61 431.19,124.95 431.63,124.83 432.07,124.70 432.51,124.31 432.95,124.61 433.39,124.73 433.83,124.57 434.27,125.14 434.71,125.09 435.15,124.15 435.59,123.72 436.03,124.21 436.47,124.45 436.91,124.72 437.35,124.21 437.79,123.48 438.23,123.73 438.68,124.02 439.12,123.50 439.56,124.38 440.00,123.91 440.44,123.21 440.88,123.72 441.32,123.85 441.76,124.10 442.20,123.62 442.64,122.94 443.08,124.37 443.52,123.10 443.96,122.99 444.40,122.83 444.84,123.01 445.28,122.85 445.72,123.27 446.16,123.15 446.60,123.32 447.04,123.89 447.48,122.48 447.92,122.93 448.36,123.50 448.81,122.93 449.25,122.91 449.69,123.08 450.13,123.05 450.57,122.66 451.01,122.45 451.45,122.41 451.89,122.63 452.33,123.35 452.77,122.93 453.21,122.97 453.65,122.17 454.09,121.60 454.53,121.65 454.97,121.59 455.41,121.49 455.85,122.48 456.29,121.31 456.73,121.57 457.17,122.63 457.61,122.70 458.05,122.64 458.49,121.14 458.94,122.06 459.38,122.27 459.82,121.18 460.26,121.67 460.70,122.15 461.14,121.89 461.58,121.07 462.02,121.72 462.46,121.42 462.90,120.44 463.34,120.87 463.78,121.06 464.22,120.65 464.66,121.50 465.10,120.64 465.54,120.47 465.98,120.87 466.42,120.94 466.86,119.14 467.30,119.88 467.74,120.44 468.18,119.47 468.62,118.90 469.06,120.56 469.51,120.47 469.95,120.09 470.39,118.71 470.83,119.87 471.27,118.54 471.71,118.50 472.15,118.71 472.59,123.06 472.88,127.30" fill="none" stroke="#1E90F5" stroke-width="2.1" stroke-linejoin="round" />
<polyline points="403.00,126.97 403.44,126.91 403.88,127.30 404.32,127.30 404.76,126.82 405.21,126.84 405.65,126.84 406.09,127.08 406.53,126.79 406.97,126.73 407.41,126.70 407.85,127.02 408.29,126.73 408.74,126.72 409.18,126.37 409.62,126.06 410.06,126.05 410.50,126.37 410.94,126.42 411.38,126.53 411.82,126.71 412.26,126.67 412.71,126.18 413.15,126.27 413.59,126.15 414.03,125.55 414.47,125.88 414.91,125.77 415.35,126.06 415.79,126.23 416.24,125.83 416.68,125.98 417.12,125.48 417.56,124.85 418.00,125.14 418.44,125.64 418.88,124.72 419.32,124.75 419.76,124.74 420.21,124.45 420.65,124.54 421.09,124.41 421.53,124.87 421.97,123.99 422.41,123.92 422.85,124.86 423.29,124.00 423.74,123.95 424.18,124.20 424.62,124.01 425.06,123.97 425.50,123.27 425.94,123.75 426.38,123.19 426.82,123.76 427.27,122.91 427.71,122.77 428.15,123.30 428.59,123.04 429.03,122.41 429.47,122.60 429.91,122.84 430.35,123.14 430.79,122.87 431.24,122.17 431.68,122.88 432.12,121.60 432.56,122.48 433.00,121.32 433.44,122.16 433.88,120.98 434.32,121.24 434.77,121.44 435.21,121.28 435.65,120.92 436.09,120.88 436.53,121.21 436.97,121.26 437.41,120.60 437.85,119.73 438.29,120.13 438.74,120.96 439.18,119.51 439.62,119.54 440.06,119.08 440.50,120.25 440.94,119.11 441.38,120.24 441.82,119.02 442.27,119.59 442.71,119.55 443.15,118.19 443.59,119.51 444.03,118.58 444.47,117.79 444.91,118.81 445.35,118.73 445.79,117.26 446.24,118.00 446.68,117.25 447.12,118.46 447.56,117.63 448.00,117.86 448.44,116.67 448.88,117.72 449.32,115.75 449.77,117.51 450.21,115.88 450.65,117.19 451.09,116.54 451.53,115.18 451.97,116.41 452.41,116.19 452.85,114.93 453.29,115.42 453.74,116.01 454.18,113.76 454.62,115.44 455.06,115.54 455.50,114.69 455.94,113.91 456.38,113.46 456.82,114.73 457.27,114.06 457.71,114.61 458.15,113.49 458.59,112.59 459.03,112.49 459.47,111.96 459.91,112.15 460.35,111.74 460.80,111.96 461.24,112.37 461.68,112.82 462.12,111.62 462.56,112.31 463.00,112.70 463.44,111.70 463.88,110.50 464.32,112.22 464.77,110.94 465.21,111.28 465.65,110.83 466.09,111.64 466.53,109.42 466.97,111.07 467.41,110.04 467.85,110.39 468.30,111.30 468.74,109.76 469.18,110.72 469.62,110.82 470.06,110.75 470.50,110.28 470.94,110.33 471.38,108.75 471.82,108.96 472.27,107.54 472.71,107.54 473.15,107.24 473.59,109.21 474.03,108.49 474.47,108.91 474.91,107.83 475.35,107.62 475.80,107.01 476.24,107.17 476.68,108.36 477.12,107.80 477.56,107.42 478.00,108.84 478.44,108.67 478.88,107.51 479.32,108.29 479.77,106.41 480.21,117.18 480.50,123.63" fill="none" stroke="#2BA58A" stroke-width="2.4" stroke-linejoin="round" />
<polyline points="403.00,127.30 403.44,127.14 403.88,127.15 404.32,126.85 404.76,126.71 405.21,127.03 405.65,126.96 406.09,126.17 406.53,126.52 406.97,126.43 407.41,125.66 407.85,125.99 408.29,125.55 408.74,125.74 409.18,125.48 409.62,125.80 410.06,125.23 410.50,124.89 410.94,125.09 411.38,124.75 411.82,124.69 412.26,125.16 412.71,124.33 413.15,124.37 413.59,124.53 414.03,124.68 414.47,123.66 414.91,123.94 415.35,123.52 415.79,123.20 416.23,123.23 416.68,122.85 417.12,123.29 417.56,122.67 418.00,122.93 418.44,122.20 418.88,122.11 419.32,122.88 419.76,122.69 420.21,122.43 420.65,121.36 421.09,121.85 421.53,121.45 421.97,121.70 422.41,121.28 422.85,121.28 423.29,121.16 423.73,120.69 424.18,120.53 424.62,119.93 425.06,120.07 425.50,119.56 425.94,119.49 426.38,119.13 426.82,119.41 427.26,119.97 427.71,118.81 428.15,118.49 428.59,118.41 429.03,118.73 429.47,118.35 429.91,118.94 430.35,117.84 430.79,118.06 431.23,118.34 431.68,118.52 432.12,117.13 432.56,116.74 433.00,118.00 433.44,116.70 433.88,117.16 434.32,117.41 434.76,117.02 435.21,116.07 435.65,115.72 436.09,116.94 436.53,115.81 436.97,116.61 437.41,115.29 437.85,115.79 438.29,114.67 438.73,114.32 439.18,114.98 439.62,113.94 440.06,114.99 440.50,115.24 440.94,114.13 441.38,114.99 441.82,114.52 442.26,113.97 442.70,113.42 443.15,114.10 443.59,114.15 444.03,112.41 444.47,113.30 444.91,111.89 445.35,111.83 445.79,112.67 446.23,112.33 446.68,112.05 447.12,111.63 447.56,111.55 448.00,111.45 448.44,111.16 448.88,110.33 449.32,111.04 449.76,111.03 450.20,110.25 450.65,111.09 451.09,110.78 451.53,109.18 451.97,109.98 452.41,109.74 452.85,110.72 453.29,109.68 453.73,109.15 454.18,110.20 454.62,108.72 455.06,108.51 455.50,109.61 455.94,108.17 456.38,108.36 456.82,107.70 457.26,108.27 457.70,107.28 458.15,107.03 458.59,108.51 459.03,108.25 459.47,106.64 459.91,105.78 460.35,107.28 460.79,106.62 461.23,106.12 461.67,106.59 462.12,106.31 462.56,106.26 463.00,105.95 463.44,105.22 463.88,105.76 464.32,105.40 464.76,104.24 465.20,105.92 465.65,104.38 466.09,103.78 466.53,104.68 466.97,104.72 467.41,103.06 467.85,104.33 468.29,104.28 468.73,103.46 469.17,102.59 469.62,103.97 470.06,103.22 470.50,103.01 470.94,101.49 471.38,102.36 471.82,101.06 472.26,102.73 472.70,102.09 473.15,101.06 473.59,100.23 474.03,101.23 474.47,101.67 474.91,101.78 475.35,100.46 475.79,101.21 476.23,99.29 476.67,99.00 477.12,100.66 477.56,100.20 478.00,98.49 478.44,98.76 478.88,98.08 479.32,99.21 479.76,99.64 480.20,98.97 480.64,97.31 481.08,112.73 481.38,123.63" fill="none" stroke="#EEC05A" stroke-width="2.4" stroke-linejoin="round" />
<polyline points="403.00,127.30 403.44,127.12 403.88,126.70 404.32,126.46 404.76,126.17 405.20,125.73 405.64,125.22 406.08,124.94 406.52,124.62 406.96,124.48 407.39,124.04 407.83,123.81 408.27,123.52 408.71,123.22 409.15,122.85 409.59,122.26 410.03,121.97 410.47,121.66 410.91,121.35 411.35,121.28 411.79,120.92 412.23,120.49 412.67,120.15 413.11,119.80 413.55,119.50 413.99,119.54 414.43,119.05 414.87,118.75 415.31,118.55 415.75,118.43 416.19,118.05 416.62,117.96 417.06,117.33 417.50,117.11 417.94,117.01 418.38,116.88 418.82,116.36 419.26,116.28 419.70,115.89 420.14,115.67 420.58,115.60 421.02,115.42 421.46,115.10 421.90,114.96 422.34,114.87 422.78,114.58 423.22,114.10 423.66,114.27 424.10,114.05 424.54,113.54 424.98,113.50 425.41,113.16 425.85,112.98 426.29,112.83 426.73,112.27 427.17,112.48 427.61,112.16 428.05,112.06 428.49,111.61 428.93,111.60 429.37,111.34 429.81,110.91 430.25,110.94 430.69,110.60 431.13,110.19 431.57,110.44 432.01,110.27 432.45,109.97 432.89,109.46 433.33,109.35 433.76,109.37 434.20,109.12 434.64,109.02 435.08,108.66 435.52,108.72 435.96,108.13 436.40,107.82 436.84,107.59 437.28,107.54 437.72,107.21 438.16,107.60 438.60,107.25 439.04,106.63 439.48,106.56 439.92,106.60 440.36,106.06 440.80,106.08 441.24,105.75 441.68,105.90 442.12,105.77 442.56,105.41 442.99,105.42 443.43,105.05 443.87,104.46 444.31,104.68 444.75,104.69 445.19,104.46 445.63,104.17 446.07,103.54 446.51,103.63 446.95,103.47 447.39,103.40 447.83,102.57 448.27,102.76 448.71,102.71 449.15,102.62 449.59,102.41 450.03,102.13 450.47,101.55 450.91,101.73 451.35,101.60 451.78,101.06 452.22,101.03 452.66,100.25 453.10,100.70 453.54,100.17 453.98,99.77 454.42,99.82 454.86,99.16 455.30,99.32 455.74,99.28 456.18,98.91 456.62,98.97 457.06,98.43 457.50,98.33 457.94,97.58 458.38,97.37 458.82,97.39 459.26,97.51 459.70,97.07 460.13,96.81 460.57,96.58 461.01,96.29 461.45,95.49 461.89,95.82 462.33,95.62 462.77,94.61 463.21,94.63 463.65,93.99 464.09,94.20 464.53,93.48 464.97,93.40 465.41,92.99 465.85,92.73 466.29,92.65 466.73,92.69 467.17,92.29 467.61,91.40 468.05,91.06 468.49,90.73 468.93,90.93 469.36,90.33 469.80,89.88 470.24,89.70 470.68,89.22 471.12,89.15 471.56,88.70 472.00,88.34 472.44,88.39 472.88,87.45 473.32,87.07 473.76,87.54 474.20,86.36 474.64,86.02 475.08,85.94 475.52,86.18 475.96,85.02 476.40,85.40 476.84,84.24 477.28,84.18 477.71,84.40 478.15,83.94 478.59,83.13 479.03,82.83 479.47,82.30 479.91,81.75 480.35,82.08 480.79,81.92 481.23,80.64 481.67,81.16 482.11,79.92 482.55,80.29 482.99,79.21 483.43,78.84 483.87,78.34 484.31,78.27 484.75,77.53 485.19,77.81 485.63,76.91 486.07,76.83 486.50,75.82 486.94,75.51 487.38,75.38 487.82,74.87 488.26,74.94 488.70,74.47 489.14,73.41 489.58,73.05 490.02,72.16 490.46,71.94 490.90,71.94 491.34,71.19 491.78,70.23 492.22,69.97 492.66,69.99 493.10,68.55 493.54,68.01 493.98,68.27 494.42,67.20 494.86,66.82 495.29,65.80 495.73,65.75 496.17,65.26 496.61,64.39 497.05,63.27 497.49,63.66 497.93,63.05 498.37,61.88 498.81,60.98 499.25,60.80 499.69,60.29 500.13,59.20 500.57,58.70 501.01,58.92 501.45,57.37 501.89,57.57 502.33,56.85 502.77,55.62 503.21,55.51 503.65,54.47 504.08,54.63 504.52,53.20 504.96,53.45 505.40,52.89 505.84,51.88 506.28,51.46 506.72,50.61 507.16,49.56 507.60,49.18 508.04,49.42 508.48,48.43 508.92,47.52 509.36,46.97 509.80,46.07 510.24,45.74 510.68,45.62 511.12,44.79 511.56,43.43 512.00,43.43 512.44,42.30 512.88,41.42 513.31,41.27 513.75,40.60 514.19,40.09 514.63,39.86 515.07,38.50 515.51,38.47 515.95,37.30 516.39,37.49 516.83,36.16 517.27,35.67 517.71,35.30 518.15,34.92 518.59,81.07 518.88,127.30 520.05,127.30" fill="none" stroke="#E8185F" stroke-width="2.3" stroke-linejoin="round" />
</g>
<line x1="406.30" y1="29.20" x2="423.60" y2="29.20" stroke="#1E90F5" stroke-width="1.5" />
<text x="425.20" y="31.80" font-size="7.2" text-anchor="start" fill="#111" stroke="#111" stroke-width="0.22" stroke-linejoin="round" >PVA</text>
<line x1="406.30" y1="38.00" x2="423.60" y2="38.00" stroke="#2BA58A" stroke-width="1.5" />
<text x="425.20" y="40.60" font-size="7.2" text-anchor="start" fill="#111" stroke="#111" stroke-width="0.22" stroke-linejoin="round" >PVA-DES-10</text>
<line x1="406.30" y1="46.80" x2="423.60" y2="46.80" stroke="#EEC05A" stroke-width="1.5" />
<text x="425.20" y="49.40" font-size="7.2" text-anchor="start" fill="#111" stroke="#111" stroke-width="0.22" stroke-linejoin="round" >PVA-DES-20</text>
<line x1="406.30" y1="55.60" x2="423.60" y2="55.60" stroke="#E8185F" stroke-width="1.5" />
<text x="425.20" y="58.20" font-size="7.2" text-anchor="start" fill="#111" stroke="#111" stroke-width="0.22" stroke-linejoin="round" >PVA-DES-30</text>
<text x="399.50" y="129.90" font-size="8.5" text-anchor="end" fill="#111" stroke="#111" stroke-width="0.22" stroke-linejoin="round" >0.0</text>
<line x1="402.70" y1="119.14" x2="404.10" y2="119.14" stroke="#000" stroke-width="0.6" />
<line x1="402.70" y1="110.98" x2="405.30" y2="110.98" stroke="#000" stroke-width="1.2" />
<text x="399.50" y="113.58" font-size="8.5" text-anchor="end" fill="#111" stroke="#111" stroke-width="0.22" stroke-linejoin="round" >0.2</text>
<line x1="402.70" y1="102.82" x2="404.10" y2="102.82" stroke="#000" stroke-width="0.6" />
<line x1="402.70" y1="94.66" x2="405.30" y2="94.66" stroke="#000" stroke-width="1.2" />
<text x="399.50" y="97.26" font-size="8.5" text-anchor="end" fill="#111" stroke="#111" stroke-width="0.22" stroke-linejoin="round" >0.4</text>
<line x1="402.70" y1="86.50" x2="404.10" y2="86.50" stroke="#000" stroke-width="0.6" />
<line x1="402.70" y1="78.34" x2="405.30" y2="78.34" stroke="#000" stroke-width="1.2" />
<text x="399.50" y="80.94" font-size="8.5" text-anchor="end" fill="#111" stroke="#111" stroke-width="0.22" stroke-linejoin="round" >0.6</text>
<line x1="402.70" y1="70.18" x2="404.10" y2="70.18" stroke="#000" stroke-width="0.6" />
<line x1="402.70" y1="62.02" x2="405.30" y2="62.02" stroke="#000" stroke-width="1.2" />
<text x="399.50" y="64.62" font-size="8.5" text-anchor="end" fill="#111" stroke="#111" stroke-width="0.22" stroke-linejoin="round" >0.8</text>
<line x1="402.70" y1="53.86" x2="404.10" y2="53.86" stroke="#000" stroke-width="0.6" />
<line x1="402.70" y1="45.70" x2="405.30" y2="45.70" stroke="#000" stroke-width="1.2" />
<text x="399.50" y="48.30" font-size="8.5" text-anchor="end" fill="#111" stroke="#111" stroke-width="0.22" stroke-linejoin="round" >1.0</text>
<line x1="402.70" y1="37.54" x2="404.10" y2="37.54" stroke="#000" stroke-width="0.6" />
<line x1="402.70" y1="29.38" x2="405.30" y2="29.38" stroke="#000" stroke-width="1.2" />
<text x="399.50" y="31.98" font-size="8.5" text-anchor="end" fill="#111" stroke="#111" stroke-width="0.22" stroke-linejoin="round" >1.2</text>
<text x="403.00" y="137.10" font-size="8.9" text-anchor="middle" fill="#111" stroke="#111" stroke-width="0.22" stroke-linejoin="round" >0</text>
<line x1="417.65" y1="127.30" x2="417.65" y2="125.90" stroke="#000" stroke-width="0.6" />
<line x1="432.30" y1="127.30" x2="432.30" y2="124.70" stroke="#000" stroke-width="1.2" />
<text x="432.30" y="137.10" font-size="8.9" text-anchor="middle" fill="#111" stroke="#111" stroke-width="0.22" stroke-linejoin="round" >100</text>
<line x1="446.95" y1="127.30" x2="446.95" y2="125.90" stroke="#000" stroke-width="0.6" />
<line x1="461.60" y1="127.30" x2="461.60" y2="124.70" stroke="#000" stroke-width="1.2" />
<text x="461.60" y="137.10" font-size="8.9" text-anchor="middle" fill="#111" stroke="#111" stroke-width="0.22" stroke-linejoin="round" >200</text>
<line x1="476.25" y1="127.30" x2="476.25" y2="125.90" stroke="#000" stroke-width="0.6" />
<line x1="490.90" y1="127.30" x2="490.90" y2="124.70" stroke="#000" stroke-width="1.2" />
<text x="490.90" y="137.10" font-size="8.9" text-anchor="middle" fill="#111" stroke="#111" stroke-width="0.22" stroke-linejoin="round" >300</text>
<line x1="505.55" y1="127.30" x2="505.55" y2="125.90" stroke="#000" stroke-width="0.6" />
<line x1="520.20" y1="127.30" x2="520.20" y2="124.70" stroke="#000" stroke-width="1.2" />
<text x="520.20" y="137.10" font-size="8.9" text-anchor="middle" fill="#111" stroke="#111" stroke-width="0.22" stroke-linejoin="round" >400</text>
<line x1="534.85" y1="127.30" x2="534.85" y2="125.90" stroke="#000" stroke-width="0.6" />
<rect x="402.70" y="20.60" width="132.70" height="106.70" fill="none" stroke="#000" stroke-width="1.6"/>
<text x="469.00" y="150.00" font-size="9.1" text-anchor="middle" fill="#111" stroke="#111" stroke-width="0.22" stroke-linejoin="round" >Strain (%)</text>
<text x="381.20" y="71.30" font-size="8.9" text-anchor="middle" fill="#111" transform="rotate(-90 381.20 71.30)" stroke="#111" stroke-width="0.22" stroke-linejoin="round" >Stress (MPa)</text>
<clipPath id="ce"><rect x="225.8" y="164.9" width="310.2" height="106.4"/></clipPath>
<g clip-path="url(#ce)">
<polyline points="233.30,257.60 233.62,255.76 234.05,253.32 234.29,250.26 234.62,245.97 234.77,242.91 234.92,239.24 235.04,236.18 235.13,232.51 235.22,228.84 235.31,225.16 235.42,220.88 235.51,214.76 235.60,208.64 235.70,202.52 235.75,198.85 235.79,196.40 235.83,198.85 235.88,202.52 235.98,208.64 236.07,214.76 236.16,220.88 236.27,225.16 236.36,228.84 236.45,232.51 236.54,236.18 236.66,239.24 236.81,242.91 236.96,245.97 237.29,250.26 237.53,253.32 237.96,255.76 238.28,257.60 238.59,255.73 239.00,253.24 239.24,250.13 239.56,245.78 239.71,242.67 239.85,238.93 239.97,235.82 240.06,232.09 240.15,228.35 240.24,224.62 240.35,220.26 240.44,214.04 240.54,207.82 240.63,201.60 240.68,197.86 240.72,195.37 240.75,197.86 240.81,201.60 240.90,207.82 240.99,214.04 241.09,220.26 241.19,224.62 241.29,228.35 241.38,232.09 241.46,235.82 241.58,238.93 241.73,242.67 241.87,245.78 242.20,250.13 242.44,253.24 242.85,255.73 243.16,257.60 243.46,255.74 243.86,253.25 244.09,250.14 244.41,245.79 244.55,242.68 244.69,238.95 244.80,235.85 244.89,232.12 244.98,228.39 245.07,224.66 245.19,220.31 245.28,214.09 245.37,207.88 245.46,201.66 245.51,197.93 245.55,195.45 245.59,197.93 245.64,201.66 245.73,207.88 245.82,214.09 245.91,220.31 246.02,224.66 246.12,228.39 246.21,232.12 246.30,235.85 246.41,238.95 246.55,242.68 246.69,245.79 247.01,250.14 247.24,253.25 247.64,255.74 247.94,257.60 248.23,255.71 248.62,253.19 248.85,250.04 249.16,245.63 249.30,242.48 249.43,238.70 249.54,235.55 249.62,231.77 249.71,227.99 249.82,224.21 249.93,219.80 250.02,213.50 250.11,207.20 250.20,200.90 250.25,197.12 250.29,194.60 250.32,197.12 250.38,200.90 250.46,207.20 250.56,213.50 250.65,219.80 250.76,224.21 250.87,227.99 250.95,231.77 251.03,235.55 251.14,238.70 251.28,242.48 251.42,245.63 251.73,250.04 251.96,253.19 252.35,255.71 252.64,257.60 252.92,255.70 253.29,253.16 253.52,250.00 253.82,245.56 253.97,242.39 254.09,238.59 254.20,235.42 254.28,231.62 254.36,227.82 254.47,224.02 254.59,219.58 254.68,213.25 254.77,206.91 254.86,200.58 254.91,196.78 254.94,194.24 254.98,196.78 255.03,200.58 255.11,206.91 255.21,213.25 255.30,219.58 255.42,224.02 255.52,227.82 255.61,231.62 255.69,235.42 255.79,238.59 255.92,242.39 256.06,245.56 256.37,250.00 256.59,253.16 256.97,255.70 257.25,257.60 257.52,255.73 257.89,253.23 258.11,250.11 258.40,245.75 258.55,242.63 258.67,238.88 258.77,235.77 258.85,232.02 258.93,228.28 259.04,224.54 259.16,220.17 259.25,213.93 259.35,207.69 259.43,201.45 259.48,197.71 259.51,195.21 259.55,197.71 259.60,201.45 259.68,207.69 259.77,213.93 259.87,220.17 259.99,224.54 260.10,228.28 260.18,232.02 260.26,235.77 260.36,238.88 260.48,242.63 260.62,245.75 260.92,250.11 261.14,253.23 261.51,255.73 261.78,257.60 262.05,255.72 262.40,253.22 262.62,250.09 262.91,245.71 263.05,242.58 263.17,238.83 263.26,235.70 263.34,231.95 263.42,228.19 263.54,224.44 263.66,220.06 263.75,213.81 263.84,207.55 263.93,201.29 263.98,197.54 264.01,195.04 264.04,197.54 264.09,201.29 264.17,207.55 264.27,213.81 264.36,220.06 264.48,224.44 264.59,228.19 264.68,231.95 264.75,235.70 264.85,238.83 264.97,242.58 265.11,245.71 265.40,250.09 265.62,253.22 265.97,255.72 266.24,257.60 266.49,255.66 266.84,253.07 267.05,249.83 267.34,245.30 267.48,242.06 267.59,238.18 267.68,234.94 267.76,231.06 267.84,227.17 267.96,223.29 268.08,218.76 268.17,212.28 268.27,205.81 268.35,199.34 268.40,195.45 268.43,192.86 268.46,195.45 268.51,199.34 268.59,205.81 268.68,212.28 268.77,218.76 268.90,223.29 269.02,227.17 269.10,231.06 269.17,234.94 269.27,238.18 269.38,242.06 269.52,245.30 269.81,249.83 270.02,253.07 270.36,255.66 270.62,257.60 270.87,255.69 271.20,253.14 271.42,249.96 271.70,245.50 271.84,242.31 271.94,238.49 272.03,235.30 272.10,231.48 272.19,227.66 272.31,223.84 272.44,219.38 272.53,213.00 272.62,206.63 272.70,200.26 272.75,196.44 272.78,193.89 272.81,196.44 272.86,200.26 272.94,206.63 273.03,213.00 273.12,219.38 273.25,223.84 273.37,227.66 273.45,231.48 273.52,235.30 273.61,238.49 273.72,242.31 273.86,245.50 274.14,249.96 274.35,253.14 274.69,255.69 274.94,257.60 275.18,255.68 275.50,253.12 275.71,249.93 275.99,245.45 276.13,242.26 276.23,238.42 276.32,235.22 276.38,231.39 276.47,227.55 276.59,223.71 276.72,219.24 276.81,212.85 276.90,206.45 276.98,200.06 277.03,196.22 277.06,193.67 277.09,196.22 277.14,200.06 277.22,206.45 277.31,212.85 277.40,219.24 277.53,223.71 277.65,227.55 277.74,231.39 277.80,235.22 277.89,238.42 278.00,242.26 278.13,245.45 278.41,249.93 278.62,253.12 278.94,255.68 279.19,257.60 279.42,255.62 279.74,252.98 279.94,249.69 280.21,245.07 280.35,241.77 280.45,237.82 280.54,234.52 280.60,230.56 280.69,226.60 280.81,222.65 280.94,218.03 281.03,211.44 281.13,204.84 281.20,198.25 281.25,194.29 281.28,191.65 281.31,194.29 281.36,198.25 281.43,204.84 281.52,211.44 281.62,218.03 281.75,222.65 281.87,226.60 281.96,230.56 282.02,234.52 282.11,237.82 282.21,241.77 282.34,245.07 282.61,249.69 282.82,252.98 283.14,255.62 283.37,257.60 283.60,255.65 283.91,253.05 284.11,249.80 284.38,245.24 284.52,241.99 284.61,238.09 284.69,234.84 284.76,230.94 284.84,227.04 284.97,223.14 285.10,218.58 285.19,212.08 285.29,205.58 285.36,199.08 285.41,195.17 285.44,192.57 285.47,195.17 285.51,199.08 285.59,205.58 285.68,212.08 285.77,218.58 285.90,223.14 286.03,227.04 286.12,230.94 286.18,234.84 286.26,238.09 286.36,241.99 286.49,245.24 286.76,249.80 286.96,253.05 287.27,255.65 287.50,257.60 287.72,255.62 288.02,252.97 288.23,249.66 288.49,245.03 288.62,241.73 288.72,237.76 288.79,234.45 288.85,230.48 288.94,226.52 289.07,222.55 289.21,217.92 289.30,211.31 289.39,204.69 289.46,198.08 289.51,194.11 289.54,191.47 289.57,194.11 289.61,198.08 289.69,204.69 289.78,211.31 289.87,217.92 290.00,222.55 290.13,226.52 290.22,230.48 290.28,234.45 290.36,237.76 290.45,241.73 290.59,245.03 290.85,249.66 291.05,252.97 291.35,255.62 291.57,257.60 291.79,255.63 292.08,253.01 292.28,249.73 292.54,245.14 292.67,241.86 292.76,237.93 292.84,234.65 292.90,230.71 292.98,226.78 293.11,222.84 293.25,218.25 293.34,211.69 293.43,205.13 293.50,198.58 293.55,194.64 293.58,192.02 293.61,194.64 293.65,198.58 293.73,205.13 293.82,211.69 293.91,218.25 294.04,222.84 294.18,226.78 294.26,230.71 294.32,234.65 294.40,237.93 294.49,241.86 294.62,245.14 294.88,249.73 295.08,253.01 295.37,255.63 295.59,257.60 295.80,255.61 296.08,252.96 296.28,249.65 296.53,245.02 296.67,241.71 296.75,237.74 296.83,234.42 296.88,230.45 296.97,226.48 297.10,222.51 297.24,217.87 297.33,211.25 297.42,204.63 297.49,198.01 297.54,194.03 297.57,191.38 297.60,194.03 297.64,198.01 297.71,204.63 297.80,211.25 297.89,217.87 298.03,222.51 298.17,226.48 298.25,230.45 298.31,234.42 298.38,237.74 298.47,241.71 298.60,245.02 298.86,249.65 299.05,252.96 299.34,255.61 299.55,257.60 299.76,255.64 300.03,253.02 300.23,249.76 300.48,245.18 300.61,241.91 300.69,237.99 300.76,234.72 300.82,230.80 300.90,226.88 301.04,222.96 301.18,218.38 301.27,211.85 301.36,205.31 301.43,198.77 301.48,194.85 301.50,192.24 301.53,194.85 301.58,198.77 301.65,205.31 301.74,211.85 301.83,218.38 301.97,222.96 302.11,226.88 302.19,230.80 302.25,234.72 302.32,237.99 302.40,241.91 302.53,245.18 302.78,249.76 302.98,253.02 303.25,255.64 303.46,257.60 303.66,255.60 303.93,252.93 304.12,249.59 304.37,244.92 304.50,241.59 304.58,237.58 304.65,234.25 304.70,230.24 304.79,226.24 304.93,222.24 305.07,217.56 305.16,210.89 305.25,204.22 305.32,197.55 305.36,193.54 305.39,190.87 305.42,193.54 305.46,197.55 305.53,204.22 305.62,210.89 305.71,217.56 305.85,222.24 305.99,226.24 306.08,230.24 306.13,234.25 306.20,237.58 306.28,241.59 306.41,244.92 306.66,249.59 306.85,252.93 307.12,255.60 307.32,257.60 307.52,255.57 307.78,252.87 307.97,249.50 308.21,244.77 308.35,241.40 308.42,237.35 308.49,233.97 308.54,229.92 308.63,225.87 308.77,221.82 308.91,217.09 309.00,210.34 309.09,203.59 309.16,196.84 309.20,192.79 309.23,190.09 309.26,192.79 309.30,196.84 309.37,203.59 309.46,210.34 309.55,217.09 309.69,221.82 309.84,225.87 309.92,229.92 309.97,233.97 310.04,237.35 310.11,241.40 310.25,244.77 310.49,249.50 310.68,252.87 310.94,255.57 311.14,257.60 311.33,255.59 311.59,252.91 311.78,249.56 312.01,244.87 312.14,241.53 312.22,237.51 312.28,234.16 312.33,230.14 312.42,226.12 312.56,222.10 312.71,217.41 312.80,210.72 312.89,204.02 312.95,197.32 313.00,193.30 313.02,190.62 313.05,193.30 313.09,197.32 313.16,204.02 313.25,210.72 313.34,217.41 313.48,222.10 313.63,226.12 313.71,230.14 313.76,234.16 313.83,237.51 313.90,241.53 314.03,244.87 314.27,249.56 314.46,252.91 314.72,255.59 314.91,257.60 315.10,255.57 315.35,252.86 315.53,249.47 315.77,244.73 315.90,241.35 315.97,237.28 316.03,233.90 316.08,229.83 316.16,225.77 316.31,221.71 316.46,216.97 316.55,210.19 316.64,203.42 316.70,196.65 316.74,192.59 316.77,189.88 316.80,192.59 316.84,196.65 316.91,203.42 317.00,210.19 317.09,216.97 317.23,221.71 317.38,225.77 317.46,229.83 317.51,233.90 317.57,237.28 317.65,241.35 317.78,244.73 318.01,249.47 318.20,252.86 318.45,255.57 318.63,257.60 318.82,255.57 319.06,252.85 319.25,249.46 319.48,244.72 319.61,241.33 319.68,237.26 319.74,233.87 319.79,229.80 319.87,225.73 320.02,221.66 320.16,216.92 320.25,210.13 320.34,203.35 320.41,196.57 320.45,192.50 320.48,189.79 320.50,192.50 320.54,196.57 320.61,203.35 320.70,210.13 320.79,216.92 320.94,221.66 321.09,225.73 321.17,229.80 321.22,233.87 321.28,237.26 321.35,241.33 321.48,244.72 321.71,249.46 321.89,252.85 322.14,255.57 322.32,257.60 322.50,255.60 322.74,252.93 322.92,249.60 323.15,244.93 323.28,241.60 323.34,237.60 323.40,234.27 323.45,230.27 323.53,226.27 323.68,222.27 323.83,217.60 323.92,210.93 324.01,204.27 324.07,197.60 324.11,193.60 324.14,190.93 324.17,193.60 324.21,197.60 324.27,204.27 324.36,210.93 324.45,217.60 324.60,222.27 324.75,226.27 324.83,230.27 324.88,234.27 324.94,237.60 325.00,241.60 325.13,244.93 325.36,249.60 325.54,252.93 325.78,255.60 325.96,257.60 326.14,255.55 326.37,252.81 326.55,249.38 326.77,244.59 326.90,241.16 326.97,237.05 327.02,233.63 327.07,229.52 327.15,225.41 327.31,221.30 327.46,216.51 327.54,209.66 327.63,202.81 327.70,195.96 327.74,191.85 327.76,189.11 327.79,191.85 327.83,195.96 327.89,202.81 327.98,209.66 328.07,216.51 328.22,221.30 328.38,225.41 328.46,229.52 328.50,233.63 328.56,237.05 328.62,241.16 328.75,244.59 328.98,249.38 329.16,252.81 329.39,255.55 329.57,257.60 329.74,255.55 329.96,252.82 330.14,249.40 330.36,244.61 330.49,241.20 330.56,237.10 330.61,233.68 330.65,229.58 330.74,225.48 330.89,221.38 331.04,216.59 331.13,209.76 331.22,202.92 331.28,196.09 331.32,191.99 331.35,189.26 331.37,191.99 331.41,196.09 331.48,202.92 331.57,209.76 331.66,216.59 331.81,221.38 331.96,225.48 332.04,229.58 332.09,233.68 332.14,237.10 332.20,241.20 332.33,244.61 332.55,249.40 332.73,252.82 332.96,255.55 333.13,257.60 333.30,255.56 333.52,252.85 333.70,249.45 333.92,244.70 334.04,241.30 334.11,237.22 334.16,233.83 334.20,229.75 334.28,225.68 334.44,221.60 334.59,216.85 334.68,210.06 334.77,203.27 334.83,196.47 334.87,192.40 334.90,189.68 334.92,192.40 334.96,196.47 335.02,203.27 335.11,210.06 335.20,216.85 335.35,221.60 335.51,225.68 335.59,229.75 335.63,233.83 335.69,237.22 335.75,241.30 335.87,244.70 336.09,249.45 336.27,252.85 336.49,255.56 336.66,257.60 336.82,255.57 337.04,252.87 337.22,249.50 337.43,244.77 337.56,241.39 337.62,237.34 337.67,233.96 337.71,229.91 337.79,225.86 337.95,221.81 338.10,217.08 338.19,210.33 338.28,203.57 338.34,196.82 338.38,192.77 338.41,190.07 338.43,192.77 338.47,196.82 338.53,203.57 338.62,210.33 338.71,217.08 338.86,221.81 339.02,225.86 339.10,229.91 339.14,233.96 339.19,237.34 339.25,241.39 339.38,244.77 339.59,249.50 339.77,252.87 339.99,255.57 340.15,257.60 340.31,255.51 340.52,252.72 340.70,249.24 340.91,244.36 341.04,240.88 341.09,236.70 341.14,233.22 341.18,229.04 341.26,224.86 341.42,220.68 341.58,215.80 341.67,208.83 341.76,201.87 341.82,194.90 341.86,190.72 341.88,187.93 341.91,190.72 341.94,194.90 342.00,201.87 342.09,208.83 342.18,215.80 342.34,220.68 342.50,224.86 342.58,229.04 342.62,233.22 342.67,236.70 342.72,240.88 342.85,244.36 343.06,249.24 343.24,252.72 343.45,255.51 343.61,257.60 343.76,255.53 343.97,252.77 344.15,249.32 344.36,244.49 344.48,241.04 344.54,236.90 344.58,233.45 344.62,229.31 344.70,225.17 344.87,221.03 345.02,216.20 345.11,209.30 345.20,202.40 345.26,195.50 345.30,191.36 345.32,188.60 345.35,191.36 345.38,195.50 345.44,202.40 345.53,209.30 345.62,216.20 345.78,221.03 345.94,225.17 346.02,229.31 346.06,233.45 346.10,236.90 346.16,241.04 346.29,244.49 346.49,249.32 346.67,252.77 346.88,255.53 347.03,257.60 347.18,255.51 347.39,252.72 347.56,249.23 347.77,244.34 347.89,240.85 347.95,236.66 347.99,233.18 348.03,228.99 348.11,224.80 348.27,220.61 348.43,215.73 348.52,208.75 348.61,201.77 348.67,194.79 348.70,190.61 348.73,187.81 348.75,190.61 348.79,194.79 348.85,201.77 348.94,208.75 349.03,215.73 349.18,220.61 349.35,224.80 349.43,228.99 349.47,233.18 349.51,236.66 349.56,240.85 349.69,244.34 349.89,249.23 350.07,252.72 350.27,255.51 350.42,257.60 350.57,255.49 350.77,252.67 350.94,249.16 351.15,244.23 351.27,240.71 351.32,236.49 351.36,232.97 351.40,228.75 351.48,224.52 351.65,220.30 351.81,215.38 351.89,208.34 351.98,201.30 352.04,194.26 352.08,190.04 352.10,187.23 352.13,190.04 352.16,194.26 352.22,201.30 352.31,208.34 352.40,215.38 352.56,220.30 352.72,224.52 352.80,228.75 352.84,232.97 352.88,236.49 352.93,240.71 353.06,244.23 353.26,249.16 353.43,252.67 353.63,255.49 353.78,257.60 353.93,255.49 354.12,252.68 354.29,249.17 354.49,244.26 354.62,240.75 354.67,236.53 354.71,233.02 354.74,228.81 354.82,224.60 354.99,220.38 355.15,215.47 355.24,208.45 355.33,201.42 355.39,194.40 355.42,190.19 355.45,187.38 355.47,190.19 355.51,194.40 355.56,201.42 355.65,208.45 355.74,215.47 355.90,220.38 356.07,224.60 356.15,228.81 356.18,233.02 356.22,236.53 356.27,240.75 356.40,244.26 356.60,249.17 356.77,252.68 356.96,255.49 357.11,257.60 357.25,255.47 357.44,252.64 357.61,249.09 357.81,244.13 357.94,240.58 357.98,236.33 358.02,232.78 358.06,228.53 358.14,224.27 358.30,220.02 358.46,215.05 358.55,207.96 358.64,200.87 358.70,193.78 358.73,189.53 358.76,186.69 358.78,189.53 358.82,193.78 358.88,200.87 358.96,207.96 359.05,215.05 359.21,220.02 359.38,224.27 359.46,228.53 359.50,232.78 359.54,236.33 359.58,240.58 359.71,244.13 359.91,249.09 360.07,252.64 360.26,255.47 360.41,257.60 360.55,255.50 360.73,252.71 360.90,249.21 361.10,244.31 361.22,240.82 361.27,236.62 361.30,233.13 361.34,228.93 361.42,224.73 361.59,220.54 361.75,215.64 361.84,208.65 361.92,201.66 361.98,194.67 362.02,190.47 362.04,187.67 362.06,190.47 362.10,194.67 362.16,201.66 362.25,208.65 362.33,215.64 362.49,220.54 362.66,224.73 362.74,228.93 362.78,233.13 362.82,236.62 362.86,240.82 362.99,244.31 363.18,249.21 363.35,252.71 363.54,255.50 363.68,257.60 363.81,255.47 363.99,252.63 364.16,249.07 364.35,244.10 364.48,240.54 364.52,236.28 364.56,232.73 364.59,228.46 364.67,224.20 364.84,219.93 365.00,214.96 365.09,207.85 365.18,200.75 365.24,193.64 365.27,189.37 365.30,186.53 365.32,189.37 365.35,193.64 365.41,200.75 365.50,207.85 365.59,214.96 365.75,219.93 365.92,224.20 366.00,228.46 366.03,232.73 366.07,236.28 366.11,240.54 366.24,244.10 366.43,249.07 366.60,252.63 366.78,255.47 366.91,257.60 367.05,255.49 367.23,252.67 367.39,249.14 367.58,244.21 367.71,240.69 367.75,236.46 367.78,232.94 367.82,228.71 367.90,224.48 368.07,220.25 368.23,215.32 368.32,208.27 368.41,201.22 368.46,194.18 368.50,189.95 368.52,187.13 368.54,189.95 368.58,194.18 368.63,201.22 368.72,208.27 368.81,215.32 368.97,220.25 369.15,224.48 369.23,228.71 369.26,232.94 369.29,236.46 369.33,240.69 369.46,244.21 369.65,249.14 369.82,252.67 369.99,255.49 370.13,257.60 370.26,255.45 370.43,252.57 370.60,248.98 370.78,243.96 370.91,240.37 370.95,236.06 370.98,232.47 371.01,228.16 371.09,223.85 371.27,219.55 371.43,214.52 371.52,207.34 371.61,200.16 371.66,192.98 371.70,188.67 371.72,185.80 371.74,188.67 371.78,192.98 371.83,200.16 371.92,207.34 372.01,214.52 372.17,219.55 372.34,223.85 372.42,228.16 372.46,232.47 372.49,236.06 372.53,240.37 372.65,243.96 372.84,248.98 373.01,252.57 373.18,255.45 373.31,257.60 373.44,255.44 373.61,252.57 373.77,248.97 373.96,243.94 374.08,240.35 374.12,236.04 374.15,232.44 374.18,228.13 374.26,223.82 374.44,219.50 374.60,214.47 374.69,207.28 374.78,200.10 374.83,192.91 374.87,188.60 374.89,185.72 374.91,188.60 374.95,192.91 375.00,200.10 375.09,207.28 375.18,214.47 375.34,219.50 375.52,223.82 375.60,228.13 375.63,232.44 375.66,236.04 375.70,240.35 375.82,243.94 376.01,248.97 376.17,252.57 376.34,255.44 376.47,257.60 376.59,255.49 376.76,252.68 376.92,249.16 377.11,244.24 377.23,240.73 377.27,236.51 377.30,232.99 377.33,228.77 377.41,224.56 377.58,220.34 377.75,215.42 377.84,208.39 377.92,201.35 377.98,194.32 378.01,190.11 378.03,187.29 378.06,190.11 378.09,194.32 378.15,201.35 378.23,208.39 378.32,215.42 378.49,220.34 378.66,224.56 378.74,228.77 378.77,232.99 378.80,236.51 378.84,240.73 378.96,244.24 379.15,249.16 379.31,252.68 379.48,255.49 379.60,257.60 379.72,255.48 379.89,252.66 380.05,249.13 380.23,244.19 380.35,240.66 380.39,236.42 380.42,232.89 380.45,228.65 380.53,224.42 380.70,220.18 380.87,215.24 380.96,208.18 381.04,201.12 381.10,194.06 381.13,189.82 381.15,187.00 381.18,189.82 381.21,194.06 381.26,201.12 381.35,208.18 381.44,215.24 381.61,220.18 381.78,224.42 381.86,228.65 381.89,232.89 381.92,236.42 381.96,240.66 382.08,244.19 382.26,249.13 382.42,252.66 382.59,255.48 382.71,257.60 382.83,255.47 382.99,252.63 383.15,249.08 383.33,244.11 383.45,240.56 383.48,236.30 383.51,232.75 383.54,228.49 383.62,224.23 383.80,219.98 383.97,215.01 384.05,207.91 384.14,200.81 384.19,193.71 384.23,189.45 384.25,186.61 384.27,189.45 384.30,193.71 384.36,200.81 384.45,207.91 384.53,215.01 384.70,219.98 384.88,224.23 384.96,228.49 384.99,232.75 385.01,236.30 385.05,240.56 385.17,244.11 385.35,249.08 385.51,252.63 385.67,255.47 385.79,257.60 385.91,255.41 386.06,252.50 386.22,248.85 386.40,243.75 386.52,240.10 386.56,235.73 386.58,232.09 386.61,227.71 386.69,223.34 386.87,218.96 387.04,213.86 387.12,206.57 387.21,199.28 387.27,191.99 387.30,187.62 387.32,184.70 387.34,187.62 387.37,191.99 387.43,199.28 387.51,206.57 387.60,213.86 387.77,218.96 387.95,223.34 388.03,227.71 388.06,232.09 388.08,235.73 388.11,240.10 388.24,243.75 388.42,248.85 388.57,252.50 388.73,255.41 388.85,257.60 388.96,255.44 389.12,252.57 389.27,248.97 389.45,243.94 389.57,240.35 389.60,236.03 389.63,232.44 389.66,228.12 389.74,223.81 389.92,219.50 390.08,214.46 390.17,207.27 390.26,200.09 390.31,192.90 390.34,188.58 390.37,185.71 390.39,188.58 390.42,192.90 390.47,200.09 390.56,207.27 390.65,214.46 390.82,219.50 391.00,223.81 391.08,228.12 391.10,232.44 391.13,236.03 391.16,240.35 391.28,243.94 391.46,248.97 391.62,252.57 391.77,255.44 391.88,257.60 392.00,255.42 392.15,252.52 392.30,248.90 392.48,243.82 392.60,240.19 392.63,235.84 392.65,232.22 392.68,227.86 392.76,223.51 392.94,219.16 393.11,214.08 393.20,206.83 393.28,199.58 393.34,192.33 393.37,187.97 393.39,185.07 393.41,187.97 393.44,192.33 393.50,199.58 393.58,206.83 393.67,214.08 393.84,219.16 394.02,223.51 394.10,227.86 394.13,232.22 394.15,235.84 394.18,240.19 394.30,243.82 394.48,248.90 394.63,252.52 394.78,255.42 394.90,257.60 395.01,255.44 395.15,252.56 395.31,248.96 395.48,243.92 395.60,240.32 395.63,236.00 395.65,232.41 395.68,228.09 395.76,223.77 395.94,219.45 396.11,214.41 396.20,207.21 396.29,200.01 396.34,192.81 396.37,188.50 396.39,185.62 396.41,188.50 396.44,192.81 396.49,200.01 396.58,207.21 396.67,214.41 396.84,219.45 397.02,223.77 397.10,228.09 397.13,232.41 397.15,236.00 397.18,240.32 397.30,243.92 397.47,248.96 397.63,252.56 397.77,255.44 397.88,257.60 397.99,255.42 398.14,252.51 398.29,248.88 398.46,243.80 398.58,240.16 398.61,235.80 398.63,232.17 398.66,227.81 398.74,223.45 398.92,219.10 399.09,214.01 399.18,206.74 399.26,199.48 399.32,192.21 399.35,187.86 399.37,184.95 399.39,187.86 399.42,192.21 399.47,199.48 399.56,206.74 399.65,214.01 399.82,219.10 400.00,223.45 400.08,227.81 400.11,232.17 400.13,235.80 400.15,240.16 400.27,243.80 400.45,248.88 400.60,252.51 400.74,255.42 400.85,257.60 400.96,255.42 401.10,252.52 401.25,248.89 401.42,243.81 401.54,240.18 401.57,235.83 401.59,232.20 401.62,227.85 401.69,223.49 401.88,219.14 402.05,214.06 402.14,206.80 402.22,199.54 402.27,192.29 402.30,187.93 402.33,185.03 402.35,187.93 402.38,192.29 402.43,199.54 402.52,206.80 402.60,214.06 402.77,219.14 402.96,223.49 403.03,227.85 403.06,232.20 403.08,235.83 403.11,240.18 403.23,243.81 403.40,248.89 403.55,252.52 403.69,255.42 403.80,257.60 403.90,255.42 404.04,252.51 404.19,248.88 404.36,243.79 404.48,240.16 404.51,235.79 404.53,232.16 404.56,227.80 404.63,223.44 404.81,219.08 404.98,213.99 405.07,206.72 405.16,199.45 405.21,192.18 405.24,187.82 405.26,184.92 405.28,187.82 405.31,192.18 405.36,199.45 405.45,206.72 405.54,213.99 405.71,219.08 405.89,223.44 405.96,227.80 405.99,232.16 406.01,235.79 406.04,240.16 406.16,243.79 406.33,248.88 406.48,252.51 406.62,255.42 406.72,257.60 406.83,255.40 406.96,252.46 407.11,248.79 407.28,243.65 407.40,239.98 407.43,235.58 407.45,231.91 407.48,227.50 407.55,223.10 407.73,218.69 407.90,213.55 407.99,206.21 408.07,198.87 408.12,191.53 408.16,187.13 408.18,184.19 408.20,187.13 408.23,191.53 408.28,198.87 408.36,206.21 408.45,213.55 408.62,218.69 408.80,223.10 408.87,227.50 408.90,231.91 408.92,235.58 408.95,239.98 409.07,243.65 409.24,248.79 409.39,252.46 409.52,255.40 409.63,257.60 409.73,255.39 409.87,252.45 410.01,248.77 410.18,243.62 410.30,239.94 410.32,235.52 410.35,231.84 410.38,227.42 410.45,223.01 410.63,218.59 410.79,213.44 410.89,206.08 410.97,198.72 411.02,191.36 411.05,186.94 411.07,184.00 411.09,186.94 411.12,191.36 411.17,198.72 411.25,206.08 411.35,213.44 411.51,218.59 411.69,223.01 411.76,227.42 411.79,231.84 411.82,235.52 411.84,239.94 411.96,243.62 412.13,248.77 412.27,252.45 412.41,255.39 412.51,257.60 412.61,255.36 412.75,252.38 412.89,248.66 413.06,243.44 413.17,239.72 413.20,235.24 413.23,231.52 413.26,227.05 413.33,222.58 413.50,218.11 413.67,212.89 413.76,205.44 413.84,197.99 413.89,190.53 413.92,186.06 413.94,183.08 413.96,186.06 414.00,190.53 414.05,197.99 414.13,205.44 414.22,212.89 414.39,218.11 414.56,222.58 414.63,227.05 414.66,231.52 414.69,235.24 414.72,239.72 414.83,243.44 414.99,248.66 415.14,252.38 415.28,255.36 415.38,257.60 415.48,255.37 415.61,252.41 415.75,248.70 415.92,243.50 416.03,239.79 416.06,235.34 416.09,231.63 416.12,227.18 416.19,222.73 416.36,218.27 416.52,213.08 416.62,205.66 416.70,198.24 416.75,190.82 416.78,186.37 416.80,183.40 416.82,186.37 416.85,190.82 416.90,198.24 416.98,205.66 417.08,213.08 417.24,218.27 417.41,222.73 417.48,227.18 417.51,231.63 417.54,235.34 417.57,239.79 417.68,243.50 417.84,248.70 417.99,252.41 418.12,255.37 418.22,257.60 418.32,255.35 418.45,252.35 418.60,248.61 418.76,243.36 418.87,239.61 418.90,235.11 418.93,231.37 418.96,226.87 419.03,222.37 419.19,217.88 419.36,212.63 419.46,205.13 419.54,197.64 419.59,190.14 419.62,185.65 419.64,182.65 419.66,185.65 419.69,190.14 419.74,197.64 419.81,205.13 419.91,212.63 420.08,217.88 420.24,222.37 420.31,226.87 420.34,231.37 420.37,235.11 420.40,239.61 420.51,243.36 420.68,248.61 420.82,252.35 420.95,255.35 421.05,257.60 421.15,255.35 421.27,252.35 421.42,248.60 421.58,243.36 421.69,239.61 421.72,235.11 421.75,231.36 421.78,226.86 421.85,222.36 422.01,217.87 422.17,212.62 422.28,205.12 422.35,197.62 422.40,190.13 422.43,185.63 422.45,182.63 422.47,185.63 422.50,190.13 422.55,197.62 422.63,205.12 422.73,212.62 422.89,217.87 423.05,222.36 423.12,226.86 423.16,231.36 423.18,235.11 423.22,239.61 423.32,243.36 423.49,248.60 423.63,252.35 423.76,255.35 423.86,257.60 423.95,255.34 424.08,252.32 424.22,248.54 424.38,243.26 424.49,239.49 424.52,234.96 424.55,231.19 424.58,226.66 424.66,222.13 424.81,217.60 424.97,212.32 425.08,204.78 425.15,197.23 425.20,189.68 425.23,185.16 425.25,182.14 425.27,185.16 425.30,189.68 425.35,197.23 425.43,204.78 425.53,212.32 425.69,217.60 425.84,222.13 425.92,226.66 425.95,231.19 425.98,234.96 426.01,239.49 426.12,243.26 426.28,248.54 426.42,252.32 426.55,255.34 426.65,257.60 426.74,255.35 426.87,252.36 427.01,248.61 427.17,243.37 427.27,239.62 427.31,235.12 427.34,231.38 427.37,226.88 427.44,222.39 427.59,217.89 427.75,212.65 427.86,205.16 427.93,197.67 427.98,190.17 428.01,185.68 428.03,182.68 428.05,185.68 428.08,190.17 428.13,197.67 428.21,205.16 428.31,212.65 428.47,217.89 428.62,222.39 428.69,226.88 428.73,231.38 428.76,235.12 428.79,239.62 428.89,243.37 429.06,248.61 429.20,252.36 429.32,255.35 429.42,257.60 429.51,255.38 429.64,252.42 429.77,248.73 429.94,243.55 430.04,239.85 430.07,235.42 430.10,231.72 430.14,227.28 430.21,222.85 430.36,218.41 430.52,213.23 430.62,205.84 430.70,198.45 430.75,191.05 430.78,186.62 430.80,183.66 430.81,186.62 430.84,191.05 430.89,198.45 430.97,205.84 431.07,213.23 431.23,218.41 431.38,222.85 431.45,227.28 431.49,231.72 431.52,235.42 431.55,239.85 431.65,243.55 431.82,248.73 431.96,252.42 432.08,255.38 432.17,257.60 432.26,255.33 432.39,252.30 432.53,248.51 432.69,243.21 432.79,239.43 432.82,234.89 432.85,231.10 432.89,226.56 432.96,222.01 433.11,217.47 433.26,212.17 433.37,204.60 433.44,197.03 433.49,189.46 433.52,184.92 433.54,181.89 433.56,184.92 433.59,189.46 433.64,197.03 433.71,204.60 433.82,212.17 433.98,217.47 434.12,222.01 434.19,226.56 434.23,231.10 434.26,234.89 434.30,239.43 434.40,243.21 434.56,248.51 434.69,252.30 434.82,255.33 434.91,257.60 435.00,255.32 435.12,252.27 435.26,248.46 435.42,243.14 435.52,239.33 435.55,234.76 435.58,230.95 435.62,226.39 435.69,221.82 435.83,217.25 435.99,211.92 436.10,204.31 436.17,196.70 436.22,189.08 436.25,184.51 436.27,181.47 436.29,184.51 436.32,189.08 436.37,196.70 436.44,204.31 436.55,211.92 436.70,217.25 436.85,221.82 436.92,226.39 436.96,230.95 436.99,234.76 437.02,239.33 437.12,243.14 437.28,248.46 437.42,252.27 437.54,255.32 437.63,257.60 437.72,255.31 437.84,252.27 437.97,248.46 438.13,243.13 438.23,239.32 438.27,234.75 438.30,230.94 438.34,226.37 438.41,221.80 438.55,217.23 438.70,211.90 438.81,204.28 438.89,196.66 438.93,189.04 438.96,184.47 438.98,181.43 439.00,184.47 439.03,189.04 439.08,196.66 439.15,204.28 439.26,211.90 439.42,217.23 439.55,221.80 439.63,226.37 439.66,230.94 439.70,234.75 439.73,239.32 439.83,243.13 439.99,248.46 440.12,252.27 440.24,255.31 440.33,257.60 440.42,255.33 440.54,252.31 440.67,248.53 440.83,243.24 440.93,239.46 440.97,234.92 441.00,231.14 441.04,226.61 441.11,222.07 441.24,217.54 441.40,212.25 441.51,204.69 441.58,197.13 441.63,189.57 441.66,185.04 441.68,182.01 441.70,185.04 441.73,189.57 441.77,197.13 441.84,204.69 441.96,212.25 442.11,217.54 442.25,222.07 442.32,226.61 442.36,231.14 442.39,234.92 442.43,239.46 442.52,243.24 442.68,248.53 442.81,252.31 442.93,255.33 443.02,257.60 443.11,255.32 443.23,252.27 443.36,248.47 443.52,243.14 443.61,239.34 443.65,234.77 443.68,230.97 443.72,226.40 443.79,221.84 443.93,217.27 444.08,211.94 444.19,204.33 444.26,196.73 444.31,189.12 444.34,184.55 444.36,181.51 444.38,184.55 444.40,189.12 444.45,196.73 444.52,204.33 444.64,211.94 444.79,217.27 444.92,221.84 444.99,226.40 445.03,230.97 445.07,234.77 445.10,239.34 445.20,243.14 445.36,248.47 445.49,252.27 445.61,255.32 445.69,257.60 445.78,255.35 445.89,252.34 446.03,248.59 446.18,243.33 446.27,239.57 446.32,235.06 446.35,231.31 446.39,226.80 446.46,222.29 446.59,217.78 446.74,212.53 446.86,205.01 446.93,197.50 446.97,189.99 447.00,185.48 447.02,182.48 447.04,185.48 447.07,189.99 447.12,197.50 447.18,205.01 447.30,212.53 447.45,217.78 447.58,222.29 447.65,226.80 447.69,231.31 447.73,235.06 447.77,239.57 447.86,243.33 448.01,248.59 448.15,252.34 448.26,255.35 448.35,257.60 448.43,255.30 448.55,252.23 448.68,248.39 448.84,243.02 448.93,239.19 448.97,234.59 449.00,230.75 449.04,226.15 449.11,221.55 449.24,216.94 449.39,211.57 449.51,203.90 449.57,196.23 449.62,188.56 449.65,183.96 449.67,180.89 449.69,183.96 449.72,188.56 449.76,196.23 449.83,203.90 449.95,211.57 450.10,216.94 450.23,221.55 450.30,226.15 450.34,230.75 450.37,234.59 450.41,239.19 450.50,243.02 450.66,248.39 450.79,252.23 450.90,255.30 450.99,257.60 451.07,255.31 451.19,252.26 451.32,248.44 451.47,243.10 451.56,239.29 451.60,234.71 451.64,230.90 451.68,226.32 451.75,221.74 451.87,217.16 452.02,211.82 452.14,204.19 452.21,196.56 452.25,188.93 452.28,184.35 452.30,181.30 452.32,184.35 452.35,188.93 452.40,196.56 452.46,204.19 452.58,211.82 452.73,217.16 452.86,221.74 452.93,226.32 452.97,230.90 453.00,234.71 453.04,239.29 453.13,243.10 453.29,248.44 453.42,252.26 453.53,255.31 453.61,257.60 453.70,255.33 453.81,252.29 453.94,248.50 454.09,243.20 454.18,239.40 454.22,234.86 454.26,231.07 454.30,226.52 454.37,221.97 454.49,217.42 454.64,212.11 454.76,204.53 454.83,196.95 454.87,189.37 454.90,184.82 454.92,181.79 454.94,184.82 454.97,189.37 455.01,196.95 455.08,204.53 455.20,212.11 455.35,217.42 455.47,221.97 455.54,226.52 455.58,231.07 455.62,234.86 455.66,239.40 455.75,243.20 455.90,248.50 456.03,252.29 456.14,255.33 456.22,257.60 456.31,255.34 456.42,252.32 456.54,248.54 456.70,243.26 456.78,239.48 456.83,234.96 456.86,231.18 456.91,226.65 456.98,222.12 457.10,217.60 457.24,212.31 457.36,204.76 457.43,197.22 457.48,189.67 457.50,185.14 457.52,182.12 457.54,185.14 457.57,189.67 457.62,197.22 457.68,204.76 457.80,212.31 457.95,217.60 458.07,222.12 458.14,226.65 458.18,231.18 458.22,234.96 458.26,239.48 458.35,243.26 458.50,248.54 458.63,252.32 458.74,255.34 458.82,257.60 458.90,255.28 459.01,252.18 459.14,248.31 459.29,242.88 459.37,239.01 459.42,234.36 459.46,230.49 459.50,225.84 459.57,221.20 459.69,216.55 459.83,211.13 459.95,203.38 460.02,195.64 460.06,187.89 460.09,183.25 460.11,180.15 460.13,183.25 460.16,187.89 460.20,195.64 460.27,203.38 460.39,211.13 460.54,216.55 460.65,221.20 460.72,225.84 460.77,230.49 460.80,234.36 460.85,239.01 460.93,242.88 461.09,248.31 461.21,252.18 461.32,255.28 461.40,257.60 461.48,255.26 461.59,252.14 461.72,248.25 461.87,242.79 461.95,238.90 462.00,234.22 462.03,230.32 462.08,225.65 462.15,220.97 462.26,216.30 462.41,210.84 462.53,203.05 462.59,195.25 462.64,187.46 462.67,182.79 462.69,179.67 462.70,182.79 462.73,187.46 462.78,195.25 462.84,203.05 462.97,210.84 463.11,216.30 463.23,220.97 463.29,225.65 463.34,230.32 463.38,234.22 463.42,238.90 463.50,242.79 463.66,248.25 463.78,252.14 463.89,255.26 463.97,257.60 464.05,255.32 464.16,252.28 464.28,248.47 464.43,243.15 464.51,239.35 464.56,234.79 464.60,230.98 464.64,226.42 464.71,221.86 464.82,217.30 464.97,211.97 465.09,204.37 465.15,196.76 465.20,189.16 465.23,184.60 465.25,181.55 465.26,184.60 465.29,189.16 465.34,196.76 465.40,204.37 465.53,211.97 465.67,217.30 465.78,221.86 465.85,226.42 465.90,230.98 465.93,234.79 465.98,239.35 466.06,243.15 466.21,248.47 466.34,252.28 466.44,255.32 466.52,257.60 466.60,255.26 466.71,252.15 466.83,248.26 466.98,242.81 467.06,238.92 467.11,234.25 467.15,230.36 467.19,225.69 467.26,221.02 467.37,216.35 467.51,210.90 467.64,203.11 467.70,195.33 467.75,187.55 467.77,182.88 467.79,179.76 467.81,182.88 467.84,187.55 467.88,195.33 467.95,203.11 468.07,210.90 468.22,216.35 468.33,221.02 468.39,225.69 468.44,230.36 468.48,234.25 468.52,238.92 468.60,242.81 468.76,248.26 468.88,252.15 468.98,255.26 469.06,257.60 469.14,255.29 469.24,252.20 469.37,248.35 469.52,242.95 469.60,239.09 469.64,234.47 469.68,230.61 469.73,225.98 469.80,221.36 469.90,216.73 470.05,211.33 470.17,203.62 470.23,195.91 470.28,188.20 470.31,183.57 470.33,180.48 470.34,183.57 470.37,188.20 470.42,195.91 470.48,203.62 470.61,211.33 470.75,216.73 470.86,221.36 470.92,225.98 470.97,230.61 471.01,234.47 471.06,239.09 471.13,242.95 471.28,248.35 471.41,252.20 471.51,255.29 471.59,257.60 471.67,255.30 471.77,252.23 471.89,248.40 472.04,243.03 472.12,239.19 472.16,234.59 472.20,230.76 472.25,226.16 472.32,221.56 472.42,216.95 472.57,211.59 472.69,203.92 472.75,196.25 472.80,188.58 472.83,183.98 472.85,180.91 472.86,183.98 472.89,188.58 472.94,196.25 473.00,203.92 473.12,211.59 473.27,216.95 473.37,221.56 473.44,226.16 473.49,230.76 473.53,234.59 473.57,239.19 473.65,243.03 473.80,248.40 473.92,252.23 474.02,255.30 474.10,257.60 474.18,255.28 474.28,252.20 474.40,248.34 474.55,242.94 474.63,239.08 474.67,234.45 474.71,230.59 474.76,225.96 474.83,221.32 474.93,216.69 475.07,211.29 475.20,203.57 475.26,195.85 475.31,188.14 475.33,183.51 475.35,180.42 475.37,183.51 475.40,188.14 475.44,195.85 475.50,203.57 475.63,211.29 475.77,216.69 475.88,221.32 475.94,225.96 475.99,230.59 476.03,234.45 476.08,239.08 476.15,242.94 476.30,248.34 476.42,252.20 476.53,255.28 476.60,257.60 476.68,255.25 476.78,252.11 476.90,248.19 477.05,242.70 477.12,238.78 477.17,234.07 477.21,230.15 477.26,225.44 477.32,220.74 477.42,216.03 477.57,210.54 477.70,202.70 477.75,194.86 477.80,187.01 477.83,182.31 477.84,179.17 477.86,182.31 477.89,187.01 477.94,194.86 477.99,202.70 478.12,210.54 478.27,216.03 478.37,220.74 478.43,225.44 478.48,230.15 478.52,234.07 478.57,238.78 478.64,242.70 478.79,248.19 478.91,252.11 479.01,255.25 479.09,257.60 479.16,255.24 479.26,252.08 479.38,248.14 479.53,242.62 479.60,238.68 479.65,233.95 479.69,230.01 479.74,225.28 479.81,220.55 479.91,215.82 480.05,210.30 480.18,202.42 480.24,194.54 480.28,186.65 480.31,181.92 480.33,178.77 480.34,181.92 480.37,186.65 480.42,194.54 480.47,202.42 480.61,210.30 480.75,215.82 480.84,220.55 480.91,225.28 480.96,230.01 481.00,233.95 481.05,238.68 481.12,242.62 481.27,248.14 481.39,252.08 481.49,255.24 481.56,257.60 481.64,255.29 481.74,252.20 481.85,248.35 482.00,242.95 482.07,239.10 482.12,234.47 482.16,230.61 482.21,225.99 482.28,221.36 482.37,216.74 482.51,211.34 482.65,203.63 482.70,195.92 482.75,188.21 482.78,183.58 482.79,180.50 482.81,183.58 482.84,188.21 482.88,195.92 482.94,203.63 483.07,211.34 483.21,216.74 483.31,221.36 483.37,225.99 483.42,230.61 483.47,234.47 483.52,239.10 483.59,242.95 483.74,248.35 483.85,252.20 483.95,255.29 484.02,257.60 484.10,255.24 484.20,252.10 484.31,248.17 484.46,242.67 484.53,238.74 484.58,234.03 484.62,230.10 484.67,225.39 484.74,220.67 484.83,215.96 484.97,210.46 485.11,202.60 485.16,194.75 485.20,186.89 485.23,182.18 485.25,179.03 485.27,182.18 485.29,186.89 485.34,194.75 485.39,202.60 485.53,210.46 485.67,215.96 485.76,220.67 485.83,225.39 485.88,230.10 485.92,234.03 485.97,238.74 486.04,242.67 486.19,248.17 486.30,252.10 486.40,255.24 486.47,257.60 486.55,255.28 486.64,252.18 486.76,248.31 486.91,242.89 486.97,239.02 487.03,234.37 487.07,230.50 487.12,225.85 487.18,221.21 487.28,216.56 487.41,211.14 487.55,203.40 487.60,195.66 487.65,187.91 487.68,183.27 487.69,180.17 487.71,183.27 487.74,187.91 487.78,195.66 487.84,203.40 487.97,211.14 488.11,216.56 488.20,221.21 488.27,225.85 488.32,230.50 488.36,234.37 488.41,239.02 488.48,242.89 488.63,248.31 488.74,252.18 488.84,255.28 488.91,257.60 488.98,255.23 489.08,252.06 489.19,248.11 489.34,242.57 489.41,238.61 489.46,233.86 489.50,229.91 489.55,225.16 489.62,220.41 489.71,215.66 489.84,210.13 489.98,202.21 490.04,194.30 490.08,186.39 490.11,181.64 490.12,178.48 490.14,181.64 490.17,186.39 490.21,194.30 490.27,202.21 490.40,210.13 490.54,215.66 490.63,220.41 490.70,225.16 490.75,229.91 490.79,233.86 490.84,238.61 490.91,242.57 491.06,248.11 491.17,252.06 491.27,255.23 491.34,257.60 491.41,255.25 491.50,252.11 491.62,248.19 491.76,242.70 491.83,238.78 491.88,234.08 491.92,230.16 491.98,225.46 492.04,220.75 492.13,216.05 492.26,210.56 492.40,202.72 492.46,194.88 492.50,187.04 492.53,182.34 492.54,179.20 492.56,182.34 492.59,187.04 492.63,194.88 492.69,202.72 492.82,210.56 492.96,216.05 493.05,220.75 493.11,225.46 493.16,230.16 493.21,234.08 493.26,238.78 493.33,242.70 493.47,248.19 493.59,252.11 493.68,255.25 493.75,257.60 493.82,255.21 493.91,252.01 494.03,248.02 494.17,242.44 494.24,238.44 494.29,233.66 494.34,229.67 494.39,224.88 494.45,220.09 494.54,215.30 494.67,209.71 494.81,201.73 494.86,193.75 494.91,185.77 494.93,180.98 494.95,177.79 494.97,180.98 495.00,185.77 495.04,193.75 495.09,201.73 495.23,209.71 495.37,215.30 495.45,220.09 495.52,224.88 495.57,229.67 495.61,233.66 495.67,238.44 495.73,242.44 495.88,248.02 495.99,252.01 496.08,255.21 496.15,257.60 496.22,255.19 496.32,251.99 496.43,247.98 496.57,242.36 496.64,238.35 496.69,233.54 496.73,229.53 496.79,224.72 496.85,219.91 496.93,215.09 497.07,209.48 497.21,201.46 497.26,193.44 497.30,185.42 497.33,180.61 497.35,177.40 497.37,180.61 497.39,185.42 497.44,193.44 497.49,201.46 497.63,209.48 497.76,215.09 497.85,219.91 497.91,224.72 497.96,229.53 498.01,233.54 498.06,238.35 498.12,242.36 498.27,247.98 498.38,251.99 498.48,255.19 498.54,257.60 498.61,255.22 498.70,252.05 498.81,248.09 498.96,242.54 499.02,238.57 499.08,233.82 499.12,229.85 499.18,225.10 499.24,220.34 499.32,215.59 499.45,210.04 499.60,202.11 499.65,194.18 499.69,186.25 499.72,181.50 499.73,178.33 499.75,181.50 499.78,186.25 499.82,194.18 499.87,202.11 500.01,210.04 500.15,215.59 500.23,220.34 500.29,225.10 500.35,229.85 500.39,233.82 500.45,238.57 500.51,242.54 500.65,248.09 500.76,252.05 500.86,255.22 500.92,257.60 500.99,255.18 501.08,251.96 501.19,247.93 501.34,242.29 501.40,238.27 501.45,233.43 501.50,229.41 501.55,224.57 501.62,219.74 501.69,214.91 501.83,209.27 501.97,201.21 502.02,193.16 502.06,185.10 502.09,180.27 502.11,177.05 502.13,180.27 502.15,185.10 502.20,193.16 502.25,201.21 502.39,209.27 502.52,214.91 502.60,219.74 502.66,224.57 502.72,229.41 502.76,233.43 502.82,238.27 502.88,242.29 503.03,247.93 503.13,251.96 503.22,255.18 503.29,257.60 503.36,255.23 503.45,252.06 503.56,248.10 503.70,242.56 503.76,238.61 503.82,233.86 503.86,229.90 503.92,225.15 503.98,220.40 504.06,215.66 504.19,210.12 504.34,202.20 504.38,194.29 504.43,186.37 504.45,181.63 504.47,178.46 504.49,181.63 504.52,186.37 504.56,194.29 504.61,202.20 504.75,210.12 504.88,215.66 504.96,220.40 505.02,225.15 505.08,229.90 505.12,233.86 505.18,238.61 505.24,242.56 505.39,248.10 505.49,252.06 505.58,255.23 505.65,257.60 505.72,255.24 505.80,252.09 505.91,248.15 506.06,242.63 506.12,238.70 506.17,233.97 506.22,230.03 506.27,225.31 506.34,220.58 506.41,215.86 506.54,210.34 506.69,202.47 506.74,194.59 506.78,186.71 506.81,181.99 506.82,178.84 506.84,181.99 506.87,186.71 506.91,194.59 506.96,202.47 507.10,210.34 507.24,215.86 507.31,220.58 507.37,225.31 507.43,230.03 507.48,233.97 507.53,238.70 507.59,242.63 507.73,248.15 507.84,252.09 507.93,255.24 508.00,257.60 508.06,255.20 508.15,251.99 508.26,247.99 508.40,242.38 508.46,238.37 508.52,233.57 508.56,229.56 508.62,224.75 508.68,219.95 508.75,215.14 508.88,209.53 509.03,201.52 509.08,193.51 509.12,185.50 509.15,180.69 509.17,177.49 509.18,180.69 509.21,185.50 509.25,193.51 509.30,201.52 509.45,209.53 509.58,215.14 509.65,219.95 509.71,224.75 509.77,229.56 509.81,233.57 509.87,238.37 509.93,242.38 510.07,247.99 510.18,251.99 510.27,255.20 510.33,257.60 510.40,255.23 510.48,252.07 510.59,248.12 510.74,242.60 510.79,238.65 510.85,233.91 510.90,229.96 510.95,225.22 511.01,220.48 511.09,215.75 511.22,210.22 511.36,202.32 511.41,194.43 511.45,186.53 511.48,181.79 511.50,178.63 511.51,181.79 511.54,186.53 511.58,194.43 511.63,202.32 511.78,210.22 511.91,215.75 511.98,220.48 512.04,225.22 512.10,229.96 512.14,233.91 512.20,238.65 512.26,242.60 512.40,248.12 512.51,252.07 512.59,255.23 512.66,257.60 512.72,255.22 512.81,252.04 512.91,248.06 513.06,242.50 513.11,238.52 513.17,233.75 513.22,229.78 513.28,225.01 513.34,220.24 513.41,215.47 513.54,209.90 513.68,201.95 513.73,194.00 513.77,186.05 513.80,181.28 513.82,178.10 513.83,181.28 513.86,186.05 513.90,194.00 513.95,201.95 514.10,209.90 514.23,215.47 514.30,220.24 514.36,225.01 514.41,229.78 514.46,233.75 514.52,238.52 514.58,242.50 514.72,248.06 514.82,252.04 514.91,255.22 514.97,257.60 515.04,255.20 515.12,251.99 515.23,247.98 515.37,242.37 515.42,238.37 515.48,233.56 515.53,229.55 515.59,224.75 515.65,219.94 515.72,215.13 515.85,209.52 516.00,201.51 516.04,193.49 516.08,185.48 516.11,180.67 516.13,177.47 516.14,180.67 516.17,185.48 516.21,193.49 516.26,201.51 516.41,209.52 516.54,215.13 516.60,219.94 516.67,224.75 516.72,229.55 516.77,233.56 516.83,238.37 516.88,242.37 517.03,247.98 517.13,251.99 517.22,255.20 517.28,257.60 517.34,255.18 517.43,251.95 517.53,247.91 517.67,242.26 517.73,238.22 517.78,233.38 517.83,229.34 517.89,224.49 517.95,219.65 518.02,214.80 518.15,209.15 518.30,201.08 518.34,193.00 518.38,184.93 518.41,180.08 518.43,176.85 518.44,180.08 518.47,184.93 518.51,193.00 518.56,201.08 518.71,209.15 518.84,214.80 518.90,219.65 518.96,224.49 519.02,229.34 519.07,233.38 519.13,238.22 519.18,242.26 519.32,247.91 519.43,251.95 519.51,255.18 519.57,257.60 519.64,255.20 519.72,252.01 519.82,248.02 519.97,242.43 520.02,238.43 520.08,233.64 520.12,229.65 520.18,224.86 520.24,220.07 520.31,215.27 520.44,209.68 520.59,201.70 520.63,193.71 520.67,185.72 520.70,180.93 520.72,177.74 520.73,180.93 520.76,185.72 520.80,193.71 520.85,201.70 521.00,209.68 521.13,215.27 521.19,220.07 521.25,224.86 521.31,229.65 521.36,233.64 521.42,238.43 521.47,242.43 521.61,248.02 521.71,252.01 521.80,255.20 521.86,257.60 521.92,255.21 522.00,252.02 522.11,248.03 522.25,242.45 522.30,238.46 522.36,233.67 522.41,229.69 522.47,224.90 522.53,220.12 522.59,215.33 522.72,209.75 522.87,201.77 522.91,193.80 522.95,185.82 522.98,181.04 523.00,177.85 523.01,181.04 523.04,185.82 523.08,193.80 523.13,201.77 523.28,209.75 523.40,215.33 523.47,220.12 523.53,224.90 523.59,229.69 523.64,233.67 523.70,238.46 523.75,242.45 523.89,248.03 523.99,252.02 524.07,255.21 524.13,257.60 524.20,255.15 524.28,251.88 524.38,247.79 524.52,242.06 524.57,237.97 524.63,233.06 524.68,228.98 524.74,224.07 524.80,219.16 524.86,214.25 524.99,208.53 525.14,200.35 525.18,192.17 525.22,183.99 525.25,179.09 525.27,175.82 525.28,179.09 525.31,183.99 525.35,192.17 525.39,200.35 525.55,208.53 525.67,214.25 525.74,219.16 525.80,224.07 525.85,228.98 525.90,233.06 525.96,237.97 526.01,242.06 526.16,247.79 526.26,251.88 526.34,255.15 526.40,257.60" fill="none" stroke="#E8185F" stroke-width="1.55" stroke-linejoin="round" />
</g>
<line x1="237.50" y1="175.10" x2="254.30" y2="175.10" stroke="#E8185F" stroke-width="1.4" />
<text x="256.50" y="177.70" font-size="7.25" text-anchor="start" fill="#111" stroke="#111" stroke-width="0.22" stroke-linejoin="round" >PVA-DES-30 200%</text>
<text x="223.60" y="273.85" font-size="7.4" text-anchor="end" fill="#111" stroke="#111" stroke-width="0.22" stroke-linejoin="round" >-0.1</text>
<line x1="225.80" y1="264.73" x2="227.20" y2="264.73" stroke="#000" stroke-width="0.6" />
<line x1="225.80" y1="257.60" x2="228.40" y2="257.60" stroke="#000" stroke-width="1.2" />
<text x="223.60" y="259.60" font-size="7.4" text-anchor="end" fill="#111" stroke="#111" stroke-width="0.22" stroke-linejoin="round" >0.0</text>
<line x1="225.80" y1="250.48" x2="227.20" y2="250.48" stroke="#000" stroke-width="0.6" />
<line x1="225.80" y1="243.35" x2="228.40" y2="243.35" stroke="#000" stroke-width="1.2" />
<text x="223.60" y="245.35" font-size="7.4" text-anchor="end" fill="#111" stroke="#111" stroke-width="0.22" stroke-linejoin="round" >0.1</text>
<line x1="225.80" y1="236.23" x2="227.20" y2="236.23" stroke="#000" stroke-width="0.6" />
<line x1="225.80" y1="229.10" x2="228.40" y2="229.10" stroke="#000" stroke-width="1.2" />
<text x="223.60" y="231.10" font-size="7.4" text-anchor="end" fill="#111" stroke="#111" stroke-width="0.22" stroke-linejoin="round" >0.2</text>
<line x1="225.80" y1="221.98" x2="227.20" y2="221.98" stroke="#000" stroke-width="0.6" />
<line x1="225.80" y1="214.85" x2="228.40" y2="214.85" stroke="#000" stroke-width="1.2" />
<text x="223.60" y="216.85" font-size="7.4" text-anchor="end" fill="#111" stroke="#111" stroke-width="0.22" stroke-linejoin="round" >0.3</text>
<line x1="225.80" y1="207.73" x2="227.20" y2="207.73" stroke="#000" stroke-width="0.6" />
<line x1="225.80" y1="200.60" x2="228.40" y2="200.60" stroke="#000" stroke-width="1.2" />
<text x="223.60" y="202.60" font-size="7.4" text-anchor="end" fill="#111" stroke="#111" stroke-width="0.22" stroke-linejoin="round" >0.4</text>
<line x1="225.80" y1="193.48" x2="227.20" y2="193.48" stroke="#000" stroke-width="0.6" />
<line x1="225.80" y1="186.35" x2="228.40" y2="186.35" stroke="#000" stroke-width="1.2" />
<text x="223.60" y="188.35" font-size="7.4" text-anchor="end" fill="#111" stroke="#111" stroke-width="0.22" stroke-linejoin="round" >0.5</text>
<line x1="225.80" y1="179.23" x2="227.20" y2="179.23" stroke="#000" stroke-width="0.6" />
<line x1="225.80" y1="172.10" x2="228.40" y2="172.10" stroke="#000" stroke-width="1.2" />
<text x="223.60" y="174.10" font-size="7.4" text-anchor="end" fill="#111" stroke="#111" stroke-width="0.22" stroke-linejoin="round" >0.6</text>
<line x1="225.80" y1="164.98" x2="227.20" y2="164.98" stroke="#000" stroke-width="0.6" />
<line x1="233.30" y1="271.30" x2="233.30" y2="268.70" stroke="#000" stroke-width="1.2" />
<text x="233.30" y="281.30" font-size="8.9" text-anchor="middle" fill="#111" stroke="#111" stroke-width="0.22" stroke-linejoin="round" >0</text>
<line x1="252.19" y1="271.30" x2="252.19" y2="269.90" stroke="#000" stroke-width="0.6" />
<line x1="271.09" y1="271.30" x2="271.09" y2="268.70" stroke="#000" stroke-width="1.2" />
<text x="271.09" y="281.30" font-size="8.9" text-anchor="middle" fill="#111" stroke="#111" stroke-width="0.22" stroke-linejoin="round" >500</text>
<line x1="289.98" y1="271.30" x2="289.98" y2="269.90" stroke="#000" stroke-width="0.6" />
<line x1="308.88" y1="271.30" x2="308.88" y2="268.70" stroke="#000" stroke-width="1.2" />
<text x="308.88" y="281.30" font-size="8.9" text-anchor="middle" fill="#111" stroke="#111" stroke-width="0.22" stroke-linejoin="round" >1000</text>
<line x1="327.77" y1="271.30" x2="327.77" y2="269.90" stroke="#000" stroke-width="0.6" />
<line x1="346.66" y1="271.30" x2="346.66" y2="268.70" stroke="#000" stroke-width="1.2" />
<text x="346.66" y="281.30" font-size="8.9" text-anchor="middle" fill="#111" stroke="#111" stroke-width="0.22" stroke-linejoin="round" >1500</text>
<line x1="365.56" y1="271.30" x2="365.56" y2="269.90" stroke="#000" stroke-width="0.6" />
<line x1="384.45" y1="271.30" x2="384.45" y2="268.70" stroke="#000" stroke-width="1.2" />
<text x="384.45" y="281.30" font-size="8.9" text-anchor="middle" fill="#111" stroke="#111" stroke-width="0.22" stroke-linejoin="round" >2000</text>
<line x1="403.34" y1="271.30" x2="403.34" y2="269.90" stroke="#000" stroke-width="0.6" />
<line x1="422.24" y1="271.30" x2="422.24" y2="268.70" stroke="#000" stroke-width="1.2" />
<text x="422.24" y="281.30" font-size="8.9" text-anchor="middle" fill="#111" stroke="#111" stroke-width="0.22" stroke-linejoin="round" >2500</text>
<line x1="441.13" y1="271.30" x2="441.13" y2="269.90" stroke="#000" stroke-width="0.6" />
<line x1="460.03" y1="271.30" x2="460.03" y2="268.70" stroke="#000" stroke-width="1.2" />
<text x="460.03" y="281.30" font-size="8.9" text-anchor="middle" fill="#111" stroke="#111" stroke-width="0.22" stroke-linejoin="round" >3000</text>
<line x1="478.92" y1="271.30" x2="478.92" y2="269.90" stroke="#000" stroke-width="0.6" />
<line x1="497.81" y1="271.30" x2="497.81" y2="268.70" stroke="#000" stroke-width="1.2" />
<text x="497.81" y="281.30" font-size="8.9" text-anchor="middle" fill="#111" stroke="#111" stroke-width="0.22" stroke-linejoin="round" >3500</text>
<line x1="516.71" y1="271.30" x2="516.71" y2="269.90" stroke="#000" stroke-width="0.6" />
<text x="535.60" y="281.30" font-size="8.9" text-anchor="middle" fill="#111" stroke="#111" stroke-width="0.22" stroke-linejoin="round" >4000</text>
<rect x="225.80" y="164.90" width="310.20" height="106.40" fill="none" stroke="#000" stroke-width="1.6"/>
<text x="381.00" y="295.70" font-size="9.1" text-anchor="middle" fill="#111" stroke="#111" stroke-width="0.22" stroke-linejoin="round" >Time (s)</text>
<text x="204.70" y="215.30" font-size="8.9" text-anchor="middle" fill="#111" transform="rotate(-90 204.70 215.30)" stroke="#111" stroke-width="0.22" stroke-linejoin="round" >Stress (MPa)</text>
<defs>
<filter id="bl" x="-5%" y="-5%" width="110%" height="110%"><feGaussianBlur stdDeviation="0.55"/></filter>
<filter id="bl2" x="-5%" y="-5%" width="110%" height="110%"><feGaussianBlur stdDeviation="0.9"/></filter>
<linearGradient id="bgL" x1="0" y1="0" x2="0.25" y2="1"><stop offset="0" stop-color="#5A8DC4"/><stop offset="0.5" stop-color="#4A80BA"/><stop offset="1" stop-color="#376DA8"/></linearGradient>
<linearGradient id="glv" x1="0" y1="0" x2="1" y2="1"><stop offset="0" stop-color="#30C4A6"/><stop offset="0.55" stop-color="#1FAE92"/><stop offset="1" stop-color="#128A72"/></linearGradient>
<linearGradient id="wbody" x1="0" y1="0" x2="1" y2="0"><stop offset="0" stop-color="#7E8A9A"/><stop offset="0.25" stop-color="#DADDE2"/><stop offset="0.55" stop-color="#B8BEC8"/><stop offset="1" stop-color="#8893A3"/></linearGradient>
<radialGradient id="wcap" cx="0.45" cy="0.4" r="0.7"><stop offset="0" stop-color="#F4F4F6"/><stop offset="0.7" stop-color="#D8DADF"/><stop offset="1" stop-color="#AEB4BE"/></radialGradient>
<linearGradient id="rul" x1="0" y1="0" x2="0" y2="1"><stop offset="0" stop-color="#D2D2D4"/><stop offset="0.35" stop-color="#EAEAEC"/><stop offset="1" stop-color="#D4D4D7"/></linearGradient>
<linearGradient id="ins" x1="0" y1="0" x2="0" y2="1"><stop offset="0" stop-color="#A9A9AB"/><stop offset="0.3" stop-color="#D4D4D8"/><stop offset="0.75" stop-color="#C4C5CA"/><stop offset="1" stop-color="#A0A1A5"/></linearGradient>
<linearGradient id="ins2" x1="0" y1="0" x2="0" y2="1"><stop offset="0" stop-color="#C6C6C8"/><stop offset="0.35" stop-color="#D8D8DB"/><stop offset="1" stop-color="#CFCFD3"/></linearGradient>
<clipPath id="p1"><rect x="25" y="174.6" width="61" height="101.9"/></clipPath>
<clipPath id="p2"><rect x="90.6" y="174.2" width="84.9" height="48.8"/></clipPath>
<clipPath id="p3"><rect x="90.6" y="227.6" width="84.9" height="48.8"/></clipPath>
</defs>
<g clip-path="url(#p1)">
<rect x="25" y="174.6" width="61" height="101.9" fill="url(#bgL)"/>
<g filter="url(#bl)">
<path d="M24,174 L66.1,174 C67.4,177 67.8,182 67.3,186.7 C66.8,190 64,194.5 61.9,197.5 C60.4,199.6 58.6,201.4 58.1,202 L56.3,205.3 L54.4,205.7 C53.5,204.2 52.8,202.8 52,202 C50.8,201 49.4,200.9 47.9,200.7 C46,200.4 44,200.2 42.3,199.8 C40.6,199.4 39,199 37.7,198.3 C36.3,197.5 35.5,196.4 34.9,195.1 C34.2,193.6 34,192 33.4,190.5 C33,189.4 32.2,188.4 31.2,187.7 C30,186.9 28.6,186.4 27.4,185.8 L24,184.5 Z" fill="url(#glv)"/>
<path d="M47.9,178.4 C50.4,178.8 52.8,179.8 54.4,181.2 C55.8,183 56.4,185.4 56.3,187.7 C56.2,190 55.8,192.2 55.3,194.2 C54.8,196.2 54.2,198.2 53.5,199.8 L50.7,197.9 C51.3,195.6 51.8,193 51.6,190.5 C51.4,188 50.8,185.8 49.8,184 Z" fill="#0A6B58" opacity="0.85"/>
<path d="M57.5,178.5 C61,180.5 63.5,185.5 62.3,191 C61.6,194.2 59.6,197.4 57.8,200" fill="none" stroke="#0C735E" stroke-width="1.1" opacity="0.65"/>
<path d="M60.5,178 C63.5,178.6 66,181.5 66.3,185.5 C66.4,187.5 65.6,189.5 64.6,190.6 C64.6,186.5 63,181.5 60.5,178 Z" fill="#55D8BC" opacity="0.8"/>
<path d="M30,176.5 C36,176 44,177.2 48.5,180.2 C43.5,181.5 36,181.2 29.5,179.5 Z" fill="#4FD3B7" opacity="0.75"/>
<path d="M36.5,188.5 C40,190.8 44.5,191.8 48,196.5" fill="none" stroke="#0C735E" stroke-width="0.9" opacity="0.55"/>
<path d="M38,194 C41,196.6 45,197.6 49.5,198.2" fill="none" stroke="#47CFB2" stroke-width="1.2" opacity="0.7"/>
<rect x="52.8" y="204.5" width="2.8" height="11" fill="#DCE6EE" opacity="0.85"/>
<path d="M54.4,213 L55.6,243" stroke="#E2B63A" stroke-width="1.4" fill="none"/>
<rect x="53.4" y="213" width="2.1" height="7" fill="#D8A62C"/>
<path d="M48.6,254 L44.7,268.5 C45.2,272.6 49,274.2 53.5,274.2 C57.5,274.2 60.8,273.4 62.2,271.4 L65.6,255.5 Z" fill="url(#wbody)"/>
<path d="M50.6,257 L47.3,270.5" stroke="#F2F4F7" stroke-width="2.2" fill="none" opacity="0.9"/>
<path d="M63.3,259 L60.6,271.5" stroke="#C9CFD8" stroke-width="1.2" fill="none" opacity="0.8"/>
<ellipse cx="57.0" cy="254.2" rx="8.6" ry="5.2" fill="#C5CAD2" transform="rotate(8 57 254)"/>
<ellipse cx="57.2" cy="252.6" rx="8.7" ry="6.0" fill="#6A4A2C" transform="rotate(8 57 252)"/>
<ellipse cx="57.4" cy="250.0" rx="8.7" ry="7.3" fill="url(#wcap)" transform="rotate(8 57.4 250)"/>
</g>
<text x="64.5" y="272.9" font-size="8.1" fill="#F2B04E">500 g</text>
</g>
<g clip-path="url(#p2)">
<rect x="90.6" y="174.2" width="84.9" height="48.8" fill="#46484A"/>
<g filter="url(#bl)">
<rect x="90.6" y="214.6" width="84.9" height="9" fill="#6F7173"/>
<rect x="90.6" y="203" width="10.4" height="20" fill="#66686A"/>
<rect x="100.7" y="203.7" width="76" height="11.1" fill="url(#rul)"/>
<path d="M115,198.9 L133,197.8 L150,198.6" fill="none" stroke="#8E9294" stroke-width="0.9"/>
<circle cx="133.5" cy="197.6" r="1.3" fill="#A7ABAE"/>
<path d="M90,190.5 L105.6,189.6 C108.5,189.9 111,190.6 112.7,191.7 C114.6,193 115.8,195 116.2,196.7 L115.8,198.8 C113.6,199.4 111.4,199.6 109.1,199.6 C105.4,199.5 102,199 98.6,198.4 C95.6,197.6 92.6,196.4 90,194.9 Z" fill="#25BDA0"/>
<path d="M100,194.6 C105.5,194.8 111.5,196.3 116,198.4 C112,199.6 104,199.6 98.6,198.4 C98.8,197 99.3,195.6 100,194.6 Z" fill="#10866E" opacity="0.7"/>
<path d="M92,191.6 C97,191 103.5,191.1 108.5,192.2" fill="none" stroke="#5ADDC1" stroke-width="1.1" opacity="0.75"/>
<path d="M140.8,173.5 L176,173.5 L176,191.4 C174.4,192.7 172.6,193.9 170.8,194.9 C168.6,196.3 166.2,197.5 163.7,198.4 C160.8,199.4 157.8,199.9 154.9,199.8 L149.6,198.4 C149,196.6 148.7,194.8 148.8,193.1 C149.1,191.3 150,189.6 150.5,187.9 C150,186 149,184.2 147.9,182.6 C146.6,180.7 145,179 143.5,177.3 Z" fill="#28C0A3"/>
<path d="M152.5,189.5 C155.5,186.3 160.5,185 164.6,186.4 C162,189.8 160.3,194.4 160,199.2 C158.2,199.7 156.5,199.9 154.9,199.8 L149.6,198.4 C149,196.6 148.7,194.8 148.8,193.1 C149.6,191.6 151,190.4 152.5,189.5 Z" fill="#11876F" opacity="0.75"/>
<path d="M163,176.5 C167.5,179.5 170,185.2 169.2,191.5" fill="none" stroke="#0F7D66" stroke-width="1.1" opacity="0.65"/>
<path d="M147.5,176 C154,176.2 161,177.8 166.5,181" fill="none" stroke="#5ADDC1" stroke-width="1.3" opacity="0.75"/>
<path d="M170.5,177 C172.6,180 173.8,184 173.6,188" fill="none" stroke="#5ADDC1" stroke-width="1.2" opacity="0.6"/>
<rect x="90.6" y="174.2" width="39.4" height="16.0" fill="#58585A"/>
<rect x="90.6" y="176.6" width="38.6" height="11.3" fill="url(#ins2)"/>
<rect x="129.0" y="174.2" width="0.9" height="16" fill="#B8B8BA"/>
<rect x="101.8" y="182.6" width="17.1" height="4.4" fill="#F4F5F7"/>
<rect x="101.8" y="181.8" width="17.1" height="0.8" fill="#A9ABB0" opacity="0.8"/>
</g>
<text x="110.5" y="210.6" font-size="3.4" font-weight="normal" fill="#8C8C90" text-anchor="middle">1</text>
<text x="121.5" y="210.6" font-size="3.4" font-weight="normal" fill="#8C8C90" text-anchor="middle">2</text>
<text x="132.5" y="210.6" font-size="3.4" font-weight="normal" fill="#8C8C90" text-anchor="middle">3</text>
<text x="143.5" y="210.6" font-size="3.4" font-weight="normal" fill="#8C8C90" text-anchor="middle">4</text>
<text x="154.5" y="210.6" font-size="3.4" font-weight="normal" fill="#8C8C90" text-anchor="middle">5</text>
<text x="165.5" y="210.6" font-size="3.4" font-weight="normal" fill="#8C8C90" text-anchor="middle">6</text>
<text x="101.6" y="182.0" font-size="3.4" font-weight="normal" fill="#77797F" text-anchor="middle">1</text>
<text x="113.0" y="182.0" font-size="3.4" font-weight="normal" fill="#6C7CA6" text-anchor="middle">3</text>
<text x="124.4" y="182.0" font-size="3.4" font-weight="normal" fill="#77797F" text-anchor="middle">1</text>
</g>
<g clip-path="url(#p3)">
<rect x="90.6" y="227.6" width="84.9" height="48.8" fill="#3F4143"/>
<g filter="url(#bl)">
<rect x="90.6" y="246" width="84.9" height="15" fill="#595B5D"/>
<rect x="90.6" y="270.5" width="84.9" height="7" fill="#4B4D4F"/>
<rect x="93.3" y="260.3" width="84" height="11.3" fill="url(#rul)"/>
<path d="M109,249.4 L158,250.6 L158,253.2 L109,252.2 Z" fill="#8F9395" opacity="0.9"/>
<path d="M90,245.8 L103.9,245.3 C105.6,245.6 107.1,246.2 108.3,247 C109.3,248 109.9,249.2 110,250.5 C109.9,252.1 109.3,253.6 108.3,254.9 C107.1,256.4 105.6,257.6 103.9,258.5 C101.7,259.1 99.3,259.4 96.8,259.3 L90,257.6 Z" fill="#25BDA0"/>
<path d="M96,251 C101,250.4 106,250.8 110,251.6 C109.6,254.6 106.6,257.6 103.9,258.5 C101.7,259.1 99.3,259.4 98.4,259.3 C98,256.4 97.2,253.6 96,251 Z" fill="#10866E" opacity="0.7"/>
<path d="M92,247.4 C96,246.8 101,246.9 105,247.9" fill="none" stroke="#6FE3CA" stroke-width="1.2" opacity="0.75"/>
<path d="M163.7,227 L176,227 L176,261.1 C174.2,261 172.4,260.7 170.8,260.2 C168.3,259.6 165.9,258.7 163.7,257.6 C161.6,256.7 159.8,255.5 158.4,254.1 C157.7,252.7 157.4,251.2 157.6,249.7 C158.2,247.8 159.2,246.1 160.2,244.4 C161.3,243 162.2,241.6 162.8,240 C162.3,238 162,235.9 162,233.8 C162.2,231.5 162.8,229.2 163.7,227 Z" fill="#28C0A3"/>
<path d="M162.8,240 C165.4,243.4 166.9,248.4 166.5,253 C166.3,254.8 165.9,256.6 165.4,258.3 C162.4,257.1 159.8,255.5 158.4,254.1 C157.7,252.7 157.4,251.2 157.6,249.7 C158.2,247.8 159.2,246.1 160.2,244.4 C161.3,243 162.2,241.6 162.8,240 Z" fill="#11876F" opacity="0.7"/>
<path d="M169.6,230.5 C172,235.6 172.8,243 171.8,250" fill="none" stroke="#0F7D66" stroke-width="1.1" opacity="0.6"/>
<path d="M165.5,229 C166.6,232.6 167.8,236.6 169.8,240" fill="none" stroke="#5ADDC1" stroke-width="1.2" opacity="0.7"/>
<rect x="90.6" y="227.6" width="39.4" height="16.9" fill="#555557"/>
<rect x="90.6" y="230.7" width="38.6" height="11.4" fill="url(#ins2)"/>
<rect x="129.0" y="227.6" width="0.9" height="16.9" fill="#B0B0B2"/>
<rect x="101.8" y="236.8" width="17.6" height="4.5" fill="#F4F5F7"/>
<rect x="101.8" y="236.0" width="17.6" height="0.8" fill="#A9ABB0" opacity="0.8"/>
</g>
<text x="106.5" y="268.3" font-size="4.2" font-weight="normal" fill="#55575B" text-anchor="middle">1</text>
<text x="119.7" y="268.3" font-size="4.2" font-weight="normal" fill="#55575B" text-anchor="middle">2</text>
<text x="132.9" y="268.3" font-size="4.2" font-weight="normal" fill="#55575B" text-anchor="middle">3</text>
<text x="146.1" y="268.3" font-size="4.2" font-weight="normal" fill="#55575B" text-anchor="middle">4</text>
<text x="159.3" y="268.3" font-size="4.2" font-weight="normal" fill="#55575B" text-anchor="middle">5</text>
<text x="172.5" y="268.3" font-size="4.2" font-weight="normal" fill="#55575B" text-anchor="middle">6</text>
<text x="101.4" y="236.6" font-size="3.8" font-weight="normal" fill="#66686E" text-anchor="middle">1</text>
<text x="113.1" y="236.6" font-size="3.8" font-weight="normal" fill="#5E6E9A" text-anchor="middle">3</text>
<text x="124.4" y="236.6" font-size="3.8" font-weight="normal" fill="#66686E" text-anchor="middle">1</text>
</g>
</svg>
</body></html>
